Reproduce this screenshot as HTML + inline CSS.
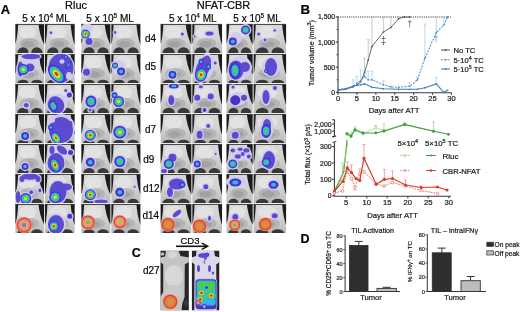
<!DOCTYPE html><html><head><meta charset="utf-8"><style>html,body{margin:0;padding:0;background:#fff;width:520px;height:312px;overflow:hidden}svg{display:block} text{stroke:#222;stroke-width:0.22px}</style></head><body>
<svg width="520" height="312" viewBox="0 0 520 312" font-family="Liberation Sans, Arial, sans-serif">
<defs><linearGradient id="mg" x1="0" y1="0" x2="0" y2="1"><stop offset="0" stop-color="#d8d8d8"/><stop offset="0.5" stop-color="#d2d2d2"/><stop offset="0.85" stop-color="#c2c2c2"/><stop offset="1" stop-color="#b6b6b6"/></linearGradient><filter id="bl" x="-5%" y="-5%" width="110%" height="110%"><feGaussianBlur stdDeviation="0.5"/></filter>
<clipPath id="c00"><rect x="15.2" y="23.7" width="29.2" height="29.3"/></clipPath>
<clipPath id="c01"><rect x="15.2" y="53.7" width="29.2" height="29.3"/></clipPath>
<clipPath id="c02"><rect x="15.2" y="83.7" width="29.2" height="29.3"/></clipPath>
<clipPath id="c03"><rect x="15.2" y="113.7" width="29.2" height="29.3"/></clipPath>
<clipPath id="c04"><rect x="15.2" y="143.7" width="29.2" height="29.3"/></clipPath>
<clipPath id="c05"><rect x="15.2" y="173.7" width="29.2" height="29.3"/></clipPath>
<clipPath id="c06"><rect x="15.2" y="203.7" width="29.2" height="29.3"/></clipPath>
<clipPath id="c10"><rect x="45.0" y="23.7" width="29.8" height="29.3"/></clipPath>
<clipPath id="c11"><rect x="45.0" y="53.7" width="29.8" height="29.3"/></clipPath>
<clipPath id="c12"><rect x="45.0" y="83.7" width="29.8" height="29.3"/></clipPath>
<clipPath id="c13"><rect x="45.0" y="113.7" width="29.8" height="29.3"/></clipPath>
<clipPath id="c14"><rect x="45.0" y="143.7" width="29.8" height="29.3"/></clipPath>
<clipPath id="c15"><rect x="45.0" y="173.7" width="29.8" height="29.3"/></clipPath>
<clipPath id="c16"><rect x="45.0" y="203.7" width="29.8" height="29.3"/></clipPath>
<clipPath id="c20"><rect x="81.2" y="23.7" width="29.4" height="29.3"/></clipPath>
<clipPath id="c21"><rect x="81.2" y="53.7" width="29.4" height="29.3"/></clipPath>
<clipPath id="c22"><rect x="81.2" y="83.7" width="29.4" height="29.3"/></clipPath>
<clipPath id="c23"><rect x="81.2" y="113.7" width="29.4" height="29.3"/></clipPath>
<clipPath id="c24"><rect x="81.2" y="143.7" width="29.4" height="29.3"/></clipPath>
<clipPath id="c25"><rect x="81.2" y="173.7" width="29.4" height="29.3"/></clipPath>
<clipPath id="c26"><rect x="81.2" y="203.7" width="29.4" height="29.3"/></clipPath>
<clipPath id="c30"><rect x="111.2" y="23.7" width="29.4" height="29.3"/></clipPath>
<clipPath id="c31"><rect x="111.2" y="53.7" width="29.4" height="29.3"/></clipPath>
<clipPath id="c32"><rect x="111.2" y="83.7" width="29.4" height="29.3"/></clipPath>
<clipPath id="c33"><rect x="111.2" y="113.7" width="29.4" height="29.3"/></clipPath>
<clipPath id="c34"><rect x="111.2" y="143.7" width="29.4" height="29.3"/></clipPath>
<clipPath id="c35"><rect x="111.2" y="173.7" width="29.4" height="29.3"/></clipPath>
<clipPath id="c36"><rect x="111.2" y="203.7" width="29.4" height="29.3"/></clipPath>
<clipPath id="c40"><rect x="160.4" y="23.7" width="31.2" height="29.3"/></clipPath>
<clipPath id="c41"><rect x="160.4" y="53.7" width="31.2" height="29.3"/></clipPath>
<clipPath id="c42"><rect x="160.4" y="83.7" width="31.2" height="29.3"/></clipPath>
<clipPath id="c43"><rect x="160.4" y="113.7" width="31.2" height="29.3"/></clipPath>
<clipPath id="c44"><rect x="160.4" y="143.7" width="31.2" height="29.3"/></clipPath>
<clipPath id="c45"><rect x="160.4" y="173.7" width="31.2" height="29.3"/></clipPath>
<clipPath id="c46"><rect x="160.4" y="203.7" width="31.2" height="29.3"/></clipPath>
<clipPath id="c50"><rect x="192.2" y="23.7" width="30.0" height="29.3"/></clipPath>
<clipPath id="c51"><rect x="192.2" y="53.7" width="30.0" height="29.3"/></clipPath>
<clipPath id="c52"><rect x="192.2" y="83.7" width="30.0" height="29.3"/></clipPath>
<clipPath id="c53"><rect x="192.2" y="113.7" width="30.0" height="29.3"/></clipPath>
<clipPath id="c54"><rect x="192.2" y="143.7" width="30.0" height="29.3"/></clipPath>
<clipPath id="c55"><rect x="192.2" y="173.7" width="30.0" height="29.3"/></clipPath>
<clipPath id="c56"><rect x="192.2" y="203.7" width="30.0" height="29.3"/></clipPath>
<clipPath id="c60"><rect x="226.3" y="23.7" width="26.5" height="29.3"/></clipPath>
<clipPath id="c61"><rect x="226.3" y="53.7" width="26.5" height="29.3"/></clipPath>
<clipPath id="c62"><rect x="226.3" y="83.7" width="26.5" height="29.3"/></clipPath>
<clipPath id="c63"><rect x="226.3" y="113.7" width="26.5" height="29.3"/></clipPath>
<clipPath id="c64"><rect x="226.3" y="143.7" width="26.5" height="29.3"/></clipPath>
<clipPath id="c65"><rect x="226.3" y="173.7" width="26.5" height="29.3"/></clipPath>
<clipPath id="c66"><rect x="226.3" y="203.7" width="26.5" height="29.3"/></clipPath>
<clipPath id="c70"><rect x="253.4" y="23.7" width="32.9" height="29.3"/></clipPath>
<clipPath id="c71"><rect x="253.4" y="53.7" width="32.9" height="29.3"/></clipPath>
<clipPath id="c72"><rect x="253.4" y="83.7" width="32.9" height="29.3"/></clipPath>
<clipPath id="c73"><rect x="253.4" y="113.7" width="32.9" height="29.3"/></clipPath>
<clipPath id="c74"><rect x="253.4" y="143.7" width="32.9" height="29.3"/></clipPath>
<clipPath id="c75"><rect x="253.4" y="173.7" width="32.9" height="29.3"/></clipPath>
<clipPath id="c76"><rect x="253.4" y="203.7" width="32.9" height="29.3"/></clipPath>
<clipPath id="cc0"><rect x="160.3" y="250.5" width="28.6" height="60"/></clipPath><clipPath id="cc1"><rect x="191.7" y="250.5" width="27.8" height="60"/></clipPath>
</defs>
<rect width="520" height="312" fill="#fff"/>
<g clip-path="url(#c00)"><g filter="url(#bl)">
<rect x="15.2" y="23.7" width="29.2" height="29.3" fill="url(#mg)"/><ellipse cx="27.5" cy="32.5" rx="8.76" ry="6.45" fill="#e2e2e2"/><ellipse cx="29.2" cy="43.6" rx="9.64" ry="5.57" fill="#b4b4b4"/><ellipse cx="28.3" cy="44.2" rx="5.84" ry="3.22" fill="#a2a2a2"/><path d="M15.2,23.7 L18.2,23.7 Q17.75,35.42 15.7,43.038 L15.2,43.624 Z" fill="#1e1e1e"/><path d="M44.4,23.7 L38.4,23.7 Q39.599999999999994,35.42 44.0,44.209999999999994 L44.4,44.796 Z" fill="#1e1e1e"/><rect x="15.2" y="23.7" width="29.2" height="1.2" fill="#3a3a3a"/><ellipse cx="23.1" cy="53.3" rx="5.84" ry="6.00" fill="#383838"/><ellipse cx="36.8" cy="53.3" rx="5.84" ry="6.00" fill="#383838"/><ellipse cx="29.9" cy="53.3" rx="1.46" ry="5.40" fill="#b8b8b8"/>

</g></g>
<g clip-path="url(#c01)"><g filter="url(#bl)">
<rect x="15.2" y="53.7" width="29.2" height="29.3" fill="url(#mg)"/><ellipse cx="27.5" cy="62.5" rx="8.76" ry="6.45" fill="#e2e2e2"/><ellipse cx="29.2" cy="73.6" rx="9.64" ry="5.57" fill="#b4b4b4"/><ellipse cx="28.3" cy="74.2" rx="5.84" ry="3.22" fill="#a2a2a2"/><path d="M15.2,53.7 L18.2,53.7 Q17.75,65.42 15.7,73.03800000000001 L15.2,73.62400000000001 Z" fill="#1e1e1e"/><path d="M44.4,53.7 L38.4,53.7 Q39.599999999999994,65.42 44.0,74.21000000000001 L44.4,74.796 Z" fill="#1e1e1e"/><rect x="15.2" y="53.7" width="29.2" height="1.2" fill="#3a3a3a"/><ellipse cx="23.1" cy="83.3" rx="5.84" ry="3.60" fill="#383838"/><ellipse cx="36.8" cy="83.3" rx="5.84" ry="3.60" fill="#383838"/><ellipse cx="29.9" cy="83.3" rx="1.46" ry="3.24" fill="#b8b8b8"/>
<ellipse cx="31.0" cy="56.5" rx="10.70" ry="4.00" fill="#d3cbee"/><ellipse cx="20.5" cy="69.0" rx="4.20" ry="8.70" fill="#d3cbee"/><ellipse cx="30.0" cy="67.5" rx="5.70" ry="5.20" fill="#d3cbee"/><ellipse cx="23.3" cy="69.5" rx="6.80" ry="6.80" fill="#d3cbee"/><ellipse cx="30.0" cy="62.0" rx="10.00" ry="8.00" fill="#d3cbee"/><ellipse cx="31.0" cy="56.5" rx="9.50" ry="2.80" fill="#5a4cd0"/><ellipse cx="20.5" cy="69.0" rx="3.00" ry="7.50" fill="#5a4cd0"/><ellipse cx="30.0" cy="67.5" rx="4.50" ry="4.00" fill="#5a4cd0"/><ellipse cx="23.3" cy="69.5" rx="5.50" ry="5.50" fill="#4636c8"/><ellipse cx="23.3" cy="69.5" rx="4.07" ry="4.07" fill="#35b6e8"/><ellipse cx="23.3" cy="69.5" rx="2.75" ry="2.75" fill="#45d14e"/><ellipse cx="23.3" cy="69.5" rx="1.54" ry="1.54" fill="#f2e232"/>
</g></g>
<g clip-path="url(#c02)"><g filter="url(#bl)">
<rect x="15.2" y="83.7" width="29.2" height="29.3" fill="url(#mg)"/><ellipse cx="27.5" cy="92.5" rx="8.76" ry="6.45" fill="#e2e2e2"/><ellipse cx="29.2" cy="103.6" rx="9.64" ry="5.57" fill="#b4b4b4"/><ellipse cx="28.3" cy="104.2" rx="5.84" ry="3.22" fill="#a2a2a2"/><path d="M15.2,83.7 L18.2,83.7 Q17.75,95.42 15.7,103.03800000000001 L15.2,103.62400000000001 Z" fill="#1e1e1e"/><path d="M44.4,83.7 L38.4,83.7 Q39.599999999999994,95.42 44.0,104.21000000000001 L44.4,104.796 Z" fill="#1e1e1e"/><rect x="15.2" y="83.7" width="29.2" height="1.2" fill="#3a3a3a"/><ellipse cx="23.1" cy="113.3" rx="5.84" ry="5.60" fill="#383838"/><ellipse cx="36.8" cy="113.3" rx="5.84" ry="5.60" fill="#383838"/><ellipse cx="29.9" cy="113.3" rx="1.46" ry="5.04" fill="#b8b8b8"/>
<ellipse cx="26.3" cy="105.2" rx="3.70" ry="3.40" fill="#d3cbee"/><ellipse cx="26.3" cy="105.2" rx="4.00" ry="3.50" fill="#d3cbee"/><ellipse cx="26.3" cy="105.2" rx="2.50" ry="2.20" fill="#5a4cd0"/>
</g></g>
<g clip-path="url(#c03)"><g filter="url(#bl)">
<rect x="15.2" y="113.7" width="29.2" height="29.3" fill="url(#mg)"/><ellipse cx="27.5" cy="122.5" rx="8.76" ry="6.45" fill="#e2e2e2"/><ellipse cx="29.2" cy="133.6" rx="9.64" ry="5.57" fill="#b4b4b4"/><ellipse cx="28.3" cy="134.2" rx="5.84" ry="3.22" fill="#a2a2a2"/><path d="M15.2,113.7 L18.2,113.7 Q17.75,125.42 15.7,133.038 L15.2,133.624 Z" fill="#1e1e1e"/><path d="M44.4,113.7 L38.4,113.7 Q39.599999999999994,125.42 44.0,134.21 L44.4,134.796 Z" fill="#1e1e1e"/><rect x="15.2" y="113.7" width="29.2" height="1.2" fill="#3a3a3a"/><ellipse cx="23.1" cy="143.3" rx="5.84" ry="3.60" fill="#383838"/><ellipse cx="36.8" cy="143.3" rx="5.84" ry="3.60" fill="#383838"/><ellipse cx="29.9" cy="143.3" rx="1.46" ry="3.24" fill="#b8b8b8"/>
<ellipse cx="25.1" cy="136.0" rx="5.30" ry="5.30" fill="#d3cbee"/><ellipse cx="25.1" cy="136.0" rx="4.00" ry="4.00" fill="#4636c8"/><ellipse cx="25.1" cy="136.0" rx="2.00" ry="2.00" fill="#35b6e8"/>
</g></g>
<g clip-path="url(#c04)"><g filter="url(#bl)">
<rect x="15.2" y="143.7" width="29.2" height="29.3" fill="url(#mg)"/><ellipse cx="27.5" cy="152.5" rx="8.76" ry="6.45" fill="#e2e2e2"/><ellipse cx="29.2" cy="163.6" rx="9.64" ry="5.57" fill="#b4b4b4"/><ellipse cx="28.3" cy="164.2" rx="5.84" ry="3.22" fill="#a2a2a2"/><path d="M15.2,143.7 L18.2,143.7 Q17.75,155.42 15.7,163.03799999999998 L15.2,163.624 Z" fill="#1e1e1e"/><path d="M44.4,143.7 L38.4,143.7 Q39.599999999999994,155.42 44.0,164.20999999999998 L44.4,164.796 Z" fill="#1e1e1e"/><rect x="15.2" y="143.7" width="29.2" height="1.2" fill="#3a3a3a"/><ellipse cx="23.1" cy="173.3" rx="5.84" ry="5.40" fill="#383838"/><ellipse cx="36.8" cy="173.3" rx="5.84" ry="5.40" fill="#383838"/><ellipse cx="29.9" cy="173.3" rx="1.46" ry="4.86" fill="#b8b8b8"/>
<ellipse cx="25.1" cy="166.4" rx="4.80" ry="4.80" fill="#d3cbee"/><ellipse cx="25.1" cy="166.4" rx="3.50" ry="3.50" fill="#4636c8"/><ellipse cx="25.1" cy="166.4" rx="1.75" ry="1.75" fill="#35b6e8"/>
</g></g>
<g clip-path="url(#c05)"><g filter="url(#bl)">
<rect x="15.2" y="173.7" width="29.2" height="29.3" fill="url(#mg)"/><ellipse cx="27.5" cy="182.5" rx="8.76" ry="6.45" fill="#e2e2e2"/><ellipse cx="29.2" cy="193.6" rx="9.64" ry="5.57" fill="#b4b4b4"/><ellipse cx="28.3" cy="194.2" rx="5.84" ry="3.22" fill="#a2a2a2"/><path d="M15.2,173.7 L18.2,173.7 Q17.75,185.42 15.7,193.03799999999998 L15.2,193.624 Z" fill="#1e1e1e"/><path d="M44.4,173.7 L38.4,173.7 Q39.599999999999994,185.42 44.0,194.20999999999998 L44.4,194.796 Z" fill="#1e1e1e"/><rect x="15.2" y="173.7" width="29.2" height="1.2" fill="#3a3a3a"/><ellipse cx="23.1" cy="203.3" rx="5.84" ry="4.60" fill="#383838"/><ellipse cx="36.8" cy="203.3" rx="5.84" ry="4.60" fill="#383838"/><ellipse cx="29.9" cy="203.3" rx="1.46" ry="4.14" fill="#b8b8b8"/>
<ellipse cx="30.0" cy="176.5" rx="9.70" ry="4.40" fill="#d3cbee"/><ellipse cx="22.0" cy="179.0" rx="3.70" ry="4.20" fill="#d3cbee"/><ellipse cx="38.0" cy="179.0" rx="3.70" ry="4.20" fill="#d3cbee"/><ellipse cx="18.0" cy="197.0" rx="3.70" ry="7.20" fill="#d3cbee"/><ellipse cx="31.2" cy="192.3" rx="3.20" ry="3.20" fill="#d3cbee"/><ellipse cx="39.8" cy="190.5" rx="2.70" ry="3.20" fill="#d3cbee"/><ellipse cx="25.7" cy="198.5" rx="6.80" ry="6.80" fill="#d3cbee"/><ellipse cx="30.0" cy="177.0" rx="11.00" ry="4.50" fill="#d3cbee"/><ellipse cx="30.0" cy="176.5" rx="8.50" ry="3.20" fill="#5a4cd0"/><ellipse cx="22.0" cy="179.0" rx="2.50" ry="3.00" fill="#5a4cd0"/><ellipse cx="38.0" cy="179.0" rx="2.50" ry="3.00" fill="#5a4cd0"/><ellipse cx="18.0" cy="197.0" rx="2.50" ry="6.00" fill="#5a4cd0"/><ellipse cx="31.2" cy="192.3" rx="2.00" ry="2.00" fill="#5a4cd0"/><ellipse cx="39.8" cy="190.5" rx="1.50" ry="2.00" fill="#5a4cd0"/><ellipse cx="25.7" cy="198.5" rx="5.50" ry="5.50" fill="#4636c8"/><ellipse cx="25.7" cy="198.5" rx="4.07" ry="4.07" fill="#35b6e8"/><ellipse cx="25.7" cy="198.5" rx="2.75" ry="2.75" fill="#45d14e"/><ellipse cx="25.7" cy="198.5" rx="1.54" ry="1.54" fill="#f2e232"/>
</g></g>
<g clip-path="url(#c06)"><g filter="url(#bl)">
<rect x="15.2" y="203.7" width="29.2" height="29.3" fill="url(#mg)"/><ellipse cx="27.5" cy="212.5" rx="8.76" ry="6.45" fill="#e2e2e2"/><ellipse cx="29.2" cy="223.6" rx="9.64" ry="5.57" fill="#b4b4b4"/><ellipse cx="28.3" cy="224.2" rx="5.84" ry="3.22" fill="#a2a2a2"/><path d="M15.2,203.7 L18.2,203.7 Q17.75,215.42 15.7,223.03799999999998 L15.2,223.624 Z" fill="#1e1e1e"/><path d="M44.4,203.7 L38.4,203.7 Q39.599999999999994,215.42 44.0,224.20999999999998 L44.4,224.796 Z" fill="#1e1e1e"/><rect x="15.2" y="203.7" width="29.2" height="1.2" fill="#3a3a3a"/><ellipse cx="23.1" cy="233.3" rx="5.84" ry="4.00" fill="#383838"/><ellipse cx="36.8" cy="233.3" rx="5.84" ry="4.00" fill="#383838"/><ellipse cx="29.9" cy="233.3" rx="1.46" ry="3.60" fill="#b8b8b8"/>
<ellipse cx="24.1" cy="225.0" rx="8.10" ry="8.10" fill="#eea090"/><ellipse cx="24.1" cy="225.0" rx="7.50" ry="7.50" fill="#dc4a3a"/><ellipse cx="24.1" cy="225.0" rx="6.10" ry="6.10" fill="#e8906e"/><ellipse cx="24.1" cy="225.0" rx="3.75" ry="3.75" fill="#e7a77a"/><ellipse cx="24.1" cy="225.0" rx="2.25" ry="2.25" fill="#6a80d8"/>
</g></g>
<g clip-path="url(#c10)"><g filter="url(#bl)">
<rect x="45.0" y="23.7" width="29.799999999999997" height="29.3" fill="url(#mg)"/><ellipse cx="57.5" cy="32.5" rx="8.94" ry="6.45" fill="#e2e2e2"/><ellipse cx="59.3" cy="43.6" rx="9.83" ry="5.57" fill="#b4b4b4"/><ellipse cx="58.4" cy="44.2" rx="5.96" ry="3.22" fill="#a2a2a2"/><path d="M45.0,23.7 L47.4,23.7 Q47.04,35.42 45.5,43.038 L45.0,43.624 Z" fill="#1e1e1e"/><path d="M74.8,23.7 L70.6,23.7 Q71.44,35.42 74.39999999999999,44.209999999999994 L74.8,44.796 Z" fill="#1e1e1e"/><rect x="45.0" y="23.7" width="29.799999999999997" height="1.2" fill="#3a3a3a"/><ellipse cx="53.0" cy="53.3" rx="5.96" ry="6.00" fill="#383838"/><ellipse cx="67.1" cy="53.3" rx="5.96" ry="6.00" fill="#383838"/><ellipse cx="60.0" cy="53.3" rx="1.49" ry="5.40" fill="#b8b8b8"/>
<ellipse cx="50.9" cy="32.8" rx="2.50" ry="2.50" fill="#d3cbee"/><ellipse cx="50.9" cy="32.8" rx="1.30" ry="1.30" fill="#5a4cd0"/>
</g></g>
<g clip-path="url(#c11)"><g filter="url(#bl)">
<rect x="45.0" y="53.7" width="29.799999999999997" height="29.3" fill="url(#mg)"/><ellipse cx="57.5" cy="62.5" rx="8.94" ry="6.45" fill="#e2e2e2"/><ellipse cx="59.3" cy="73.6" rx="9.83" ry="5.57" fill="#b4b4b4"/><ellipse cx="58.4" cy="74.2" rx="5.96" ry="3.22" fill="#a2a2a2"/><path d="M45.0,53.7 L47.4,53.7 Q47.04,65.42 45.5,73.03800000000001 L45.0,73.62400000000001 Z" fill="#1e1e1e"/><path d="M74.8,53.7 L70.6,53.7 Q71.44,65.42 74.39999999999999,74.21000000000001 L74.8,74.796 Z" fill="#1e1e1e"/><rect x="45.0" y="53.7" width="29.799999999999997" height="1.2" fill="#3a3a3a"/><ellipse cx="53.0" cy="83.3" rx="5.96" ry="3.60" fill="#383838"/><ellipse cx="67.1" cy="83.3" rx="5.96" ry="3.60" fill="#383838"/><ellipse cx="60.0" cy="83.3" rx="1.49" ry="3.24" fill="#b8b8b8"/>
<ellipse cx="61.0" cy="68.0" rx="13.70" ry="15.70" fill="#d3cbee"/><ellipse cx="56.5" cy="74.0" rx="7.80" ry="12.30" fill="#d3cbee" transform="rotate(-40 56.5 74.0)"/><ellipse cx="68.5" cy="65.0" rx="3.10" ry="5.80" fill="#d3cbee" transform="rotate(40 68.5 65.0)"/><ellipse cx="66.0" cy="57.0" rx="3.50" ry="3.10" fill="#d3cbee"/><ellipse cx="61.0" cy="68.0" rx="12.50" ry="14.50" fill="#5a4cd0"/><ellipse cx="62.0" cy="61.5" rx="2.50" ry="2.20" fill="#d3cbee"/><ellipse cx="69.0" cy="76.0" rx="3.00" ry="4.00" fill="#d3cbee"/><ellipse cx="56.5" cy="74.0" rx="6.50" ry="11.00" fill="#4636c8" transform="rotate(-40 56.5 74.0)"/><ellipse cx="68.5" cy="65.0" rx="1.80" ry="4.50" fill="#4636c8" transform="rotate(40 68.5 65.0)"/><ellipse cx="66.0" cy="57.0" rx="2.20" ry="1.80" fill="#4636c8"/><ellipse cx="56.5" cy="74.0" rx="5.20" ry="8.80" fill="#35b6e8" transform="rotate(-40 56.5 74.0)"/><ellipse cx="56.5" cy="74.0" rx="3.90" ry="6.60" fill="#45d14e" transform="rotate(-40 56.5 74.0)"/><ellipse cx="56.5" cy="74.0" rx="2.73" ry="4.62" fill="#f2e232" transform="rotate(-40 56.5 74.0)"/><ellipse cx="56.5" cy="74.0" rx="1.56" ry="2.64" fill="#e3321c" transform="rotate(-40 56.5 74.0)"/><ellipse cx="68.5" cy="65.0" rx="0.90" ry="2.25" fill="#35b6e8" transform="rotate(40 68.5 65.0)"/><ellipse cx="66.0" cy="57.0" rx="1.10" ry="0.90" fill="#35b6e8"/>
</g></g>
<g clip-path="url(#c12)"><g filter="url(#bl)">
<rect x="45.0" y="83.7" width="29.799999999999997" height="29.3" fill="url(#mg)"/><ellipse cx="57.5" cy="92.5" rx="8.94" ry="6.45" fill="#e2e2e2"/><ellipse cx="59.3" cy="103.6" rx="9.83" ry="5.57" fill="#b4b4b4"/><ellipse cx="58.4" cy="104.2" rx="5.96" ry="3.22" fill="#a2a2a2"/><path d="M45.0,83.7 L47.4,83.7 Q47.04,95.42 45.5,103.03800000000001 L45.0,103.62400000000001 Z" fill="#1e1e1e"/><path d="M74.8,83.7 L70.6,83.7 Q71.44,95.42 74.39999999999999,104.21000000000001 L74.8,104.796 Z" fill="#1e1e1e"/><rect x="45.0" y="83.7" width="29.799999999999997" height="1.2" fill="#3a3a3a"/><ellipse cx="53.0" cy="113.3" rx="5.96" ry="5.60" fill="#383838"/><ellipse cx="67.1" cy="113.3" rx="5.96" ry="5.60" fill="#383838"/><ellipse cx="60.0" cy="113.3" rx="1.49" ry="5.04" fill="#b8b8b8"/>
<ellipse cx="56.0" cy="105.0" rx="9.20" ry="10.20" fill="#d3cbee" transform="rotate(-30 56.0 105.0)"/><ellipse cx="53.3" cy="106.0" rx="5.30" ry="7.30" fill="#d3cbee" transform="rotate(-20 53.3 106.0)"/><ellipse cx="69.4" cy="95.1" rx="3.80" ry="3.80" fill="#d3cbee"/><ellipse cx="65.7" cy="90.4" rx="2.70" ry="2.70" fill="#d3cbee"/><ellipse cx="57.0" cy="104.0" rx="11.00" ry="10.00" fill="#d3cbee" transform="rotate(-30 57.0 104.0)"/><ellipse cx="56.0" cy="105.0" rx="8.00" ry="9.00" fill="#5a4cd0" transform="rotate(-30 56.0 105.0)"/><ellipse cx="53.3" cy="106.0" rx="4.00" ry="6.00" fill="#4636c8" transform="rotate(-20 53.3 106.0)"/><ellipse cx="69.4" cy="95.1" rx="2.50" ry="2.50" fill="#4636c8"/><ellipse cx="65.7" cy="90.4" rx="1.50" ry="1.50" fill="#5a4cd0"/><ellipse cx="53.3" cy="106.0" rx="2.64" ry="3.96" fill="#35b6e8" transform="rotate(-20 53.3 106.0)"/><ellipse cx="53.3" cy="106.0" rx="1.44" ry="2.16" fill="#45d14e" transform="rotate(-20 53.3 106.0)"/>
</g></g>
<g clip-path="url(#c13)"><g filter="url(#bl)">
<rect x="45.0" y="113.7" width="29.799999999999997" height="29.3" fill="url(#mg)"/><ellipse cx="57.5" cy="122.5" rx="8.94" ry="6.45" fill="#e2e2e2"/><ellipse cx="59.3" cy="133.6" rx="9.83" ry="5.57" fill="#b4b4b4"/><ellipse cx="58.4" cy="134.2" rx="5.96" ry="3.22" fill="#a2a2a2"/><path d="M45.0,113.7 L47.4,113.7 Q47.04,125.42 45.5,133.038 L45.0,133.624 Z" fill="#1e1e1e"/><path d="M74.8,113.7 L70.6,113.7 Q71.44,125.42 74.39999999999999,134.21 L74.8,134.796 Z" fill="#1e1e1e"/><rect x="45.0" y="113.7" width="29.799999999999997" height="1.2" fill="#3a3a3a"/><ellipse cx="53.0" cy="143.3" rx="5.96" ry="3.60" fill="#383838"/><ellipse cx="67.1" cy="143.3" rx="5.96" ry="3.60" fill="#383838"/><ellipse cx="60.0" cy="143.3" rx="1.49" ry="3.24" fill="#b8b8b8"/>
<ellipse cx="61.0" cy="130.0" rx="13.20" ry="14.20" fill="#d3cbee"/><ellipse cx="56.0" cy="138.0" rx="5.80" ry="8.30" fill="#d3cbee" transform="rotate(-35 56.0 138.0)"/><ellipse cx="50.9" cy="127.4" rx="4.10" ry="4.10" fill="#d3cbee"/><ellipse cx="70.0" cy="124.0" rx="3.70" ry="4.20" fill="#d3cbee"/><ellipse cx="61.0" cy="128.0" rx="14.00" ry="14.00" fill="#d3cbee"/><ellipse cx="61.0" cy="130.0" rx="12.00" ry="13.00" fill="#5a4cd0"/><ellipse cx="52.0" cy="120.0" rx="3.00" ry="3.00" fill="#d3cbee"/><ellipse cx="56.0" cy="138.0" rx="4.50" ry="7.00" fill="#4636c8" transform="rotate(-35 56.0 138.0)"/><ellipse cx="50.9" cy="127.4" rx="2.80" ry="2.80" fill="#4636c8"/><ellipse cx="70.0" cy="124.0" rx="2.50" ry="3.00" fill="#5a4cd0"/><ellipse cx="56.0" cy="138.0" rx="3.60" ry="5.60" fill="#35b6e8" transform="rotate(-35 56.0 138.0)"/><ellipse cx="56.0" cy="138.0" rx="2.70" ry="4.20" fill="#45d14e" transform="rotate(-35 56.0 138.0)"/><ellipse cx="56.0" cy="138.0" rx="1.89" ry="2.94" fill="#f2e232" transform="rotate(-35 56.0 138.0)"/><ellipse cx="56.0" cy="138.0" rx="1.08" ry="1.68" fill="#e3321c" transform="rotate(-35 56.0 138.0)"/><ellipse cx="50.9" cy="127.4" rx="1.40" ry="1.40" fill="#35b6e8"/>
</g></g>
<g clip-path="url(#c14)"><g filter="url(#bl)">
<rect x="45.0" y="143.7" width="29.799999999999997" height="29.3" fill="url(#mg)"/><ellipse cx="57.5" cy="152.5" rx="8.94" ry="6.45" fill="#e2e2e2"/><ellipse cx="59.3" cy="163.6" rx="9.83" ry="5.57" fill="#b4b4b4"/><ellipse cx="58.4" cy="164.2" rx="5.96" ry="3.22" fill="#a2a2a2"/><path d="M45.0,143.7 L47.4,143.7 Q47.04,155.42 45.5,163.03799999999998 L45.0,163.624 Z" fill="#1e1e1e"/><path d="M74.8,143.7 L70.6,143.7 Q71.44,155.42 74.39999999999999,164.20999999999998 L74.8,164.796 Z" fill="#1e1e1e"/><rect x="45.0" y="143.7" width="29.799999999999997" height="1.2" fill="#3a3a3a"/><ellipse cx="53.0" cy="173.3" rx="5.96" ry="5.40" fill="#383838"/><ellipse cx="67.1" cy="173.3" rx="5.96" ry="5.40" fill="#383838"/><ellipse cx="60.0" cy="173.3" rx="1.49" ry="4.86" fill="#b8b8b8"/>
<ellipse cx="56.0" cy="163.0" rx="9.70" ry="11.20" fill="#d3cbee"/><ellipse cx="62.0" cy="150.0" rx="7.20" ry="4.70" fill="#d3cbee" transform="rotate(40 62.0 150.0)"/><ellipse cx="52.0" cy="150.0" rx="3.70" ry="5.20" fill="#d3cbee"/><ellipse cx="55.0" cy="165.0" rx="5.80" ry="8.80" fill="#d3cbee" transform="rotate(-25 55.0 165.0)"/><ellipse cx="70.6" cy="152.5" rx="3.80" ry="3.80" fill="#d3cbee"/><ellipse cx="56.0" cy="163.0" rx="8.50" ry="10.00" fill="#5a4cd0"/><ellipse cx="62.0" cy="150.0" rx="6.00" ry="3.50" fill="#5a4cd0" transform="rotate(40 62.0 150.0)"/><ellipse cx="52.0" cy="150.0" rx="2.50" ry="4.00" fill="#5a4cd0"/><ellipse cx="55.0" cy="165.0" rx="4.50" ry="7.50" fill="#4636c8" transform="rotate(-25 55.0 165.0)"/><ellipse cx="70.6" cy="152.5" rx="2.50" ry="2.50" fill="#4636c8"/><ellipse cx="55.0" cy="165.0" rx="3.60" ry="6.00" fill="#35b6e8" transform="rotate(-25 55.0 165.0)"/><ellipse cx="55.0" cy="165.0" rx="2.70" ry="4.50" fill="#45d14e" transform="rotate(-25 55.0 165.0)"/><ellipse cx="55.0" cy="165.0" rx="1.89" ry="3.15" fill="#f2e232" transform="rotate(-25 55.0 165.0)"/><ellipse cx="55.0" cy="165.0" rx="1.08" ry="1.80" fill="#e3321c" transform="rotate(-25 55.0 165.0)"/>
</g></g>
<g clip-path="url(#c15)"><g filter="url(#bl)">
<rect x="45.0" y="173.7" width="29.799999999999997" height="29.3" fill="url(#mg)"/><ellipse cx="57.5" cy="182.5" rx="8.94" ry="6.45" fill="#e2e2e2"/><ellipse cx="59.3" cy="193.6" rx="9.83" ry="5.57" fill="#b4b4b4"/><ellipse cx="58.4" cy="194.2" rx="5.96" ry="3.22" fill="#a2a2a2"/><path d="M45.0,173.7 L47.4,173.7 Q47.04,185.42 45.5,193.03799999999998 L45.0,193.624 Z" fill="#1e1e1e"/><path d="M74.8,173.7 L70.6,173.7 Q71.44,185.42 74.39999999999999,194.20999999999998 L74.8,194.796 Z" fill="#1e1e1e"/><rect x="45.0" y="173.7" width="29.799999999999997" height="1.2" fill="#3a3a3a"/><ellipse cx="53.0" cy="203.3" rx="5.96" ry="4.60" fill="#383838"/><ellipse cx="67.1" cy="203.3" rx="5.96" ry="4.60" fill="#383838"/><ellipse cx="60.0" cy="203.3" rx="1.49" ry="4.14" fill="#b8b8b8"/>
<ellipse cx="58.0" cy="192.0" rx="9.70" ry="12.20" fill="#d3cbee"/><ellipse cx="66.0" cy="187.0" rx="7.20" ry="4.70" fill="#d3cbee"/><ellipse cx="55.2" cy="197.2" rx="7.30" ry="7.30" fill="#d3cbee"/><ellipse cx="58.0" cy="192.0" rx="8.50" ry="11.00" fill="#5a4cd0"/><ellipse cx="66.0" cy="187.0" rx="6.00" ry="3.50" fill="#5a4cd0"/><ellipse cx="55.2" cy="197.2" rx="6.00" ry="6.00" fill="#4636c8"/><ellipse cx="55.2" cy="197.2" rx="4.44" ry="4.44" fill="#35b6e8"/><ellipse cx="55.2" cy="197.2" rx="3.00" ry="3.00" fill="#45d14e"/><ellipse cx="55.2" cy="197.2" rx="1.68" ry="1.68" fill="#f2e232"/>
</g></g>
<g clip-path="url(#c16)"><g filter="url(#bl)">
<rect x="45.0" y="203.7" width="29.799999999999997" height="29.3" fill="url(#mg)"/><ellipse cx="57.5" cy="212.5" rx="8.94" ry="6.45" fill="#e2e2e2"/><ellipse cx="59.3" cy="223.6" rx="9.83" ry="5.57" fill="#b4b4b4"/><ellipse cx="58.4" cy="224.2" rx="5.96" ry="3.22" fill="#a2a2a2"/><path d="M45.0,203.7 L47.4,203.7 Q47.04,215.42 45.5,223.03799999999998 L45.0,223.624 Z" fill="#1e1e1e"/><path d="M74.8,203.7 L70.6,203.7 Q71.44,215.42 74.39999999999999,224.20999999999998 L74.8,224.796 Z" fill="#1e1e1e"/><rect x="45.0" y="203.7" width="29.799999999999997" height="1.2" fill="#3a3a3a"/><ellipse cx="53.0" cy="233.3" rx="5.96" ry="4.00" fill="#383838"/><ellipse cx="67.1" cy="233.3" rx="5.96" ry="4.00" fill="#383838"/><ellipse cx="60.0" cy="233.3" rx="1.49" ry="3.60" fill="#b8b8b8"/>
<ellipse cx="56.0" cy="224.5" rx="9.20" ry="10.70" fill="#d3cbee"/><ellipse cx="53.9" cy="226.2" rx="6.30" ry="6.30" fill="#d3cbee"/><ellipse cx="69.8" cy="216.3" rx="3.80" ry="3.80" fill="#d3cbee"/><ellipse cx="56.0" cy="224.0" rx="10.00" ry="11.00" fill="#d3cbee"/><ellipse cx="56.0" cy="224.5" rx="8.00" ry="9.50" fill="#5a4cd0"/><ellipse cx="53.9" cy="226.2" rx="5.00" ry="5.00" fill="#4636c8"/><ellipse cx="69.8" cy="216.3" rx="2.50" ry="2.50" fill="#4636c8"/><ellipse cx="53.9" cy="226.2" rx="4.00" ry="4.00" fill="#35b6e8"/><ellipse cx="53.9" cy="226.2" rx="3.00" ry="3.00" fill="#45d14e"/><ellipse cx="53.9" cy="226.2" rx="2.10" ry="2.10" fill="#f2e232"/><ellipse cx="53.9" cy="226.2" rx="1.20" ry="1.20" fill="#e3321c"/>
</g></g>
<g clip-path="url(#c20)"><g filter="url(#bl)">
<rect x="81.2" y="23.7" width="29.39999999999999" height="29.3" fill="url(#mg)"/><ellipse cx="93.5" cy="32.5" rx="8.82" ry="6.45" fill="#e2e2e2"/><ellipse cx="95.3" cy="43.6" rx="9.70" ry="5.57" fill="#b4b4b4"/><ellipse cx="94.4" cy="44.2" rx="5.88" ry="3.22" fill="#a2a2a2"/><path d="M81.2,23.7 L84.2,23.7 Q83.75,35.42 81.7,43.038 L81.2,43.624 Z" fill="#1e1e1e"/><path d="M110.6,23.7 L104.6,23.7 Q105.8,35.42 110.19999999999999,44.209999999999994 L110.6,44.796 Z" fill="#1e1e1e"/><rect x="81.2" y="23.7" width="29.39999999999999" height="1.2" fill="#3a3a3a"/><ellipse cx="89.1" cy="53.3" rx="5.88" ry="6.00" fill="#383838"/><ellipse cx="103.0" cy="53.3" rx="5.88" ry="6.00" fill="#383838"/><ellipse cx="96.0" cy="53.3" rx="1.47" ry="5.40" fill="#b8b8b8"/>
<ellipse cx="89.1" cy="41.5" rx="4.70" ry="4.70" fill="#d3cbee"/><ellipse cx="85.4" cy="34.1" rx="5.80" ry="5.80" fill="#d3cbee"/><ellipse cx="87.0" cy="28.0" rx="6.00" ry="4.50" fill="#d3cbee"/><ellipse cx="89.1" cy="41.5" rx="3.50" ry="3.50" fill="#5a4cd0"/><ellipse cx="85.4" cy="34.1" rx="4.50" ry="4.50" fill="#4636c8"/><ellipse cx="85.4" cy="34.1" rx="3.60" ry="3.60" fill="#35b6e8"/><ellipse cx="85.4" cy="34.1" rx="2.70" ry="2.70" fill="#45d14e"/><ellipse cx="85.4" cy="34.1" rx="1.89" ry="1.89" fill="#f2e232"/><ellipse cx="85.4" cy="34.1" rx="1.08" ry="1.08" fill="#e3321c"/>
</g></g>
<g clip-path="url(#c21)"><g filter="url(#bl)">
<rect x="81.2" y="53.7" width="29.39999999999999" height="29.3" fill="url(#mg)"/><ellipse cx="93.5" cy="62.5" rx="8.82" ry="6.45" fill="#e2e2e2"/><ellipse cx="95.3" cy="73.6" rx="9.70" ry="5.57" fill="#b4b4b4"/><ellipse cx="94.4" cy="74.2" rx="5.88" ry="3.22" fill="#a2a2a2"/><path d="M81.2,53.7 L84.2,53.7 Q83.75,65.42 81.7,73.03800000000001 L81.2,73.62400000000001 Z" fill="#1e1e1e"/><path d="M110.6,53.7 L104.6,53.7 Q105.8,65.42 110.19999999999999,74.21000000000001 L110.6,74.796 Z" fill="#1e1e1e"/><rect x="81.2" y="53.7" width="29.39999999999999" height="1.2" fill="#3a3a3a"/><ellipse cx="89.1" cy="83.3" rx="5.88" ry="3.60" fill="#383838"/><ellipse cx="103.0" cy="83.3" rx="5.88" ry="3.60" fill="#383838"/><ellipse cx="96.0" cy="83.3" rx="1.47" ry="3.24" fill="#b8b8b8"/>
<ellipse cx="86.6" cy="72.2" rx="4.70" ry="4.70" fill="#d3cbee"/><ellipse cx="86.6" cy="72.2" rx="3.50" ry="3.50" fill="#5a4cd0"/>
</g></g>
<g clip-path="url(#c22)"><g filter="url(#bl)">
<rect x="81.2" y="83.7" width="29.39999999999999" height="29.3" fill="url(#mg)"/><ellipse cx="93.5" cy="92.5" rx="8.82" ry="6.45" fill="#e2e2e2"/><ellipse cx="95.3" cy="103.6" rx="9.70" ry="5.57" fill="#b4b4b4"/><ellipse cx="94.4" cy="104.2" rx="5.88" ry="3.22" fill="#a2a2a2"/><path d="M81.2,83.7 L84.2,83.7 Q83.75,95.42 81.7,103.03800000000001 L81.2,103.62400000000001 Z" fill="#1e1e1e"/><path d="M110.6,83.7 L104.6,83.7 Q105.8,95.42 110.19999999999999,104.21000000000001 L110.6,104.796 Z" fill="#1e1e1e"/><rect x="81.2" y="83.7" width="29.39999999999999" height="1.2" fill="#3a3a3a"/><ellipse cx="89.1" cy="113.3" rx="5.88" ry="5.60" fill="#383838"/><ellipse cx="103.0" cy="113.3" rx="5.88" ry="5.60" fill="#383838"/><ellipse cx="96.0" cy="113.3" rx="1.47" ry="5.04" fill="#b8b8b8"/>
<ellipse cx="91.0" cy="101.5" rx="6.80" ry="7.30" fill="#d3cbee"/><ellipse cx="90.0" cy="110.0" rx="2.70" ry="2.70" fill="#d3cbee"/><ellipse cx="91.0" cy="101.5" rx="5.50" ry="6.00" fill="#4636c8"/><ellipse cx="90.0" cy="110.0" rx="1.50" ry="1.50" fill="#5a4cd0"/><ellipse cx="91.0" cy="101.5" rx="3.63" ry="3.96" fill="#35b6e8"/><ellipse cx="91.0" cy="101.5" rx="1.98" ry="2.16" fill="#45d14e"/>
</g></g>
<g clip-path="url(#c23)"><g filter="url(#bl)">
<rect x="81.2" y="113.7" width="29.39999999999999" height="29.3" fill="url(#mg)"/><ellipse cx="93.5" cy="122.5" rx="8.82" ry="6.45" fill="#e2e2e2"/><ellipse cx="95.3" cy="133.6" rx="9.70" ry="5.57" fill="#b4b4b4"/><ellipse cx="94.4" cy="134.2" rx="5.88" ry="3.22" fill="#a2a2a2"/><path d="M81.2,113.7 L84.2,113.7 Q83.75,125.42 81.7,133.038 L81.2,133.624 Z" fill="#1e1e1e"/><path d="M110.6,113.7 L104.6,113.7 Q105.8,125.42 110.19999999999999,134.21 L110.6,134.796 Z" fill="#1e1e1e"/><rect x="81.2" y="113.7" width="29.39999999999999" height="1.2" fill="#3a3a3a"/><ellipse cx="89.1" cy="143.3" rx="5.88" ry="3.60" fill="#383838"/><ellipse cx="103.0" cy="143.3" rx="5.88" ry="3.60" fill="#383838"/><ellipse cx="96.0" cy="143.3" rx="1.47" ry="3.24" fill="#b8b8b8"/>
<ellipse cx="90.3" cy="135.2" rx="6.80" ry="6.80" fill="#d3cbee"/><ellipse cx="90.3" cy="135.2" rx="5.50" ry="5.50" fill="#4636c8"/><ellipse cx="90.3" cy="135.2" rx="4.40" ry="4.40" fill="#35b6e8"/><ellipse cx="90.3" cy="135.2" rx="3.30" ry="3.30" fill="#45d14e"/><ellipse cx="90.3" cy="135.2" rx="2.31" ry="2.31" fill="#f2e232"/><ellipse cx="90.3" cy="135.2" rx="1.32" ry="1.32" fill="#e3321c"/>
</g></g>
<g clip-path="url(#c24)"><g filter="url(#bl)">
<rect x="81.2" y="143.7" width="29.39999999999999" height="29.3" fill="url(#mg)"/><ellipse cx="93.5" cy="152.5" rx="8.82" ry="6.45" fill="#e2e2e2"/><ellipse cx="95.3" cy="163.6" rx="9.70" ry="5.57" fill="#b4b4b4"/><ellipse cx="94.4" cy="164.2" rx="5.88" ry="3.22" fill="#a2a2a2"/><path d="M81.2,143.7 L84.2,143.7 Q83.75,155.42 81.7,163.03799999999998 L81.2,163.624 Z" fill="#1e1e1e"/><path d="M110.6,143.7 L104.6,143.7 Q105.8,155.42 110.19999999999999,164.20999999999998 L110.6,164.796 Z" fill="#1e1e1e"/><rect x="81.2" y="143.7" width="29.39999999999999" height="1.2" fill="#3a3a3a"/><ellipse cx="89.1" cy="173.3" rx="5.88" ry="5.40" fill="#383838"/><ellipse cx="103.0" cy="173.3" rx="5.88" ry="5.40" fill="#383838"/><ellipse cx="96.0" cy="173.3" rx="1.47" ry="4.86" fill="#b8b8b8"/>
<ellipse cx="90.3" cy="162.2" rx="5.80" ry="5.80" fill="#d3cbee"/><ellipse cx="90.3" cy="162.2" rx="4.50" ry="4.50" fill="#4636c8"/><ellipse cx="90.3" cy="162.2" rx="2.25" ry="2.25" fill="#35b6e8"/>
</g></g>
<g clip-path="url(#c25)"><g filter="url(#bl)">
<rect x="81.2" y="173.7" width="29.39999999999999" height="29.3" fill="url(#mg)"/><ellipse cx="93.5" cy="182.5" rx="8.82" ry="6.45" fill="#e2e2e2"/><ellipse cx="95.3" cy="193.6" rx="9.70" ry="5.57" fill="#b4b4b4"/><ellipse cx="94.4" cy="194.2" rx="5.88" ry="3.22" fill="#a2a2a2"/><path d="M81.2,173.7 L84.2,173.7 Q83.75,185.42 81.7,193.03799999999998 L81.2,193.624 Z" fill="#1e1e1e"/><path d="M110.6,173.7 L104.6,173.7 Q105.8,185.42 110.19999999999999,194.20999999999998 L110.6,194.796 Z" fill="#1e1e1e"/><rect x="81.2" y="173.7" width="29.39999999999999" height="1.2" fill="#3a3a3a"/><ellipse cx="89.1" cy="203.3" rx="5.88" ry="4.60" fill="#383838"/><ellipse cx="103.0" cy="203.3" rx="5.88" ry="4.60" fill="#383838"/><ellipse cx="96.0" cy="203.3" rx="1.47" ry="4.14" fill="#b8b8b8"/>
<ellipse cx="101.0" cy="201.5" rx="8.20" ry="3.20" fill="#d3cbee"/><ellipse cx="90.3" cy="194.7" rx="6.80" ry="6.80" fill="#d3cbee"/><ellipse cx="101.0" cy="201.5" rx="7.00" ry="2.00" fill="#5a4cd0"/><ellipse cx="90.3" cy="194.7" rx="5.50" ry="5.50" fill="#4636c8"/><ellipse cx="90.3" cy="194.7" rx="4.40" ry="4.40" fill="#35b6e8"/><ellipse cx="90.3" cy="194.7" rx="3.30" ry="3.30" fill="#45d14e"/><ellipse cx="90.3" cy="194.7" rx="2.31" ry="2.31" fill="#f2e232"/><ellipse cx="90.3" cy="194.7" rx="1.32" ry="1.32" fill="#e3321c"/>
</g></g>
<g clip-path="url(#c26)"><g filter="url(#bl)">
<rect x="81.2" y="203.7" width="29.39999999999999" height="29.3" fill="url(#mg)"/><ellipse cx="93.5" cy="212.5" rx="8.82" ry="6.45" fill="#e2e2e2"/><ellipse cx="95.3" cy="223.6" rx="9.70" ry="5.57" fill="#b4b4b4"/><ellipse cx="94.4" cy="224.2" rx="5.88" ry="3.22" fill="#a2a2a2"/><path d="M81.2,203.7 L84.2,203.7 Q83.75,215.42 81.7,223.03799999999998 L81.2,223.624 Z" fill="#1e1e1e"/><path d="M110.6,203.7 L104.6,203.7 Q105.8,215.42 110.19999999999999,224.20999999999998 L110.6,224.796 Z" fill="#1e1e1e"/><rect x="81.2" y="203.7" width="29.39999999999999" height="1.2" fill="#3a3a3a"/><ellipse cx="89.1" cy="233.3" rx="5.88" ry="4.00" fill="#383838"/><ellipse cx="103.0" cy="233.3" rx="5.88" ry="4.00" fill="#383838"/><ellipse cx="96.0" cy="233.3" rx="1.47" ry="3.60" fill="#b8b8b8"/>
<ellipse cx="87.9" cy="222.4" rx="7.40" ry="7.40" fill="#eea090"/><ellipse cx="87.9" cy="222.4" rx="6.80" ry="6.80" fill="#dc4a3a"/><ellipse cx="87.9" cy="222.4" rx="5.40" ry="5.40" fill="#e8906e"/><ellipse cx="87.9" cy="222.4" rx="3.40" ry="3.40" fill="#e7a77a"/><ellipse cx="87.9" cy="222.4" rx="2.04" ry="2.04" fill="#70c050"/>
</g></g>
<g clip-path="url(#c30)"><g filter="url(#bl)">
<rect x="111.2" y="23.7" width="29.39999999999999" height="29.3" fill="url(#mg)"/><ellipse cx="123.5" cy="32.5" rx="8.82" ry="6.45" fill="#e2e2e2"/><ellipse cx="125.3" cy="43.6" rx="9.70" ry="5.57" fill="#b4b4b4"/><ellipse cx="124.4" cy="44.2" rx="5.88" ry="3.22" fill="#a2a2a2"/><path d="M111.2,23.7 L113.60000000000001,23.7 Q113.24000000000001,35.42 111.7,43.038 L111.2,43.624 Z" fill="#1e1e1e"/><path d="M140.6,23.7 L136.4,23.7 Q137.23999999999998,35.42 140.2,44.209999999999994 L140.6,44.796 Z" fill="#1e1e1e"/><rect x="111.2" y="23.7" width="29.39999999999999" height="1.2" fill="#3a3a3a"/><ellipse cx="119.1" cy="53.3" rx="5.88" ry="6.00" fill="#383838"/><ellipse cx="133.0" cy="53.3" rx="5.88" ry="6.00" fill="#383838"/><ellipse cx="126.0" cy="53.3" rx="1.47" ry="5.40" fill="#b8b8b8"/>
<ellipse cx="115.0" cy="32.4" rx="2.50" ry="2.50" fill="#d3cbee"/><ellipse cx="115.0" cy="32.4" rx="1.30" ry="1.30" fill="#5a4cd0"/>
</g></g>
<g clip-path="url(#c31)"><g filter="url(#bl)">
<rect x="111.2" y="53.7" width="29.39999999999999" height="29.3" fill="url(#mg)"/><ellipse cx="123.5" cy="62.5" rx="8.82" ry="6.45" fill="#e2e2e2"/><ellipse cx="125.3" cy="73.6" rx="9.70" ry="5.57" fill="#b4b4b4"/><ellipse cx="124.4" cy="74.2" rx="5.88" ry="3.22" fill="#a2a2a2"/><path d="M111.2,53.7 L113.60000000000001,53.7 Q113.24000000000001,65.42 111.7,73.03800000000001 L111.2,73.62400000000001 Z" fill="#1e1e1e"/><path d="M140.6,53.7 L136.4,53.7 Q137.23999999999998,65.42 140.2,74.21000000000001 L140.6,74.796 Z" fill="#1e1e1e"/><rect x="111.2" y="53.7" width="29.39999999999999" height="1.2" fill="#3a3a3a"/><ellipse cx="119.1" cy="83.3" rx="5.88" ry="3.60" fill="#383838"/><ellipse cx="133.0" cy="83.3" rx="5.88" ry="3.60" fill="#383838"/><ellipse cx="126.0" cy="83.3" rx="1.47" ry="3.24" fill="#b8b8b8"/>
<ellipse cx="115.0" cy="65.4" rx="4.30" ry="4.30" fill="#d3cbee"/><ellipse cx="121.1" cy="71.5" rx="5.30" ry="5.30" fill="#d3cbee"/><ellipse cx="119.0" cy="68.0" rx="7.00" ry="8.00" fill="#d3cbee"/><ellipse cx="115.0" cy="65.4" rx="3.00" ry="3.00" fill="#4636c8"/><ellipse cx="121.1" cy="71.5" rx="4.00" ry="4.00" fill="#4636c8"/><ellipse cx="115.0" cy="65.4" rx="1.98" ry="1.98" fill="#35b6e8"/><ellipse cx="115.0" cy="65.4" rx="1.08" ry="1.08" fill="#45d14e"/><ellipse cx="121.1" cy="71.5" rx="2.00" ry="2.00" fill="#35b6e8"/>
</g></g>
<g clip-path="url(#c32)"><g filter="url(#bl)">
<rect x="111.2" y="83.7" width="29.39999999999999" height="29.3" fill="url(#mg)"/><ellipse cx="123.5" cy="92.5" rx="8.82" ry="6.45" fill="#e2e2e2"/><ellipse cx="125.3" cy="103.6" rx="9.70" ry="5.57" fill="#b4b4b4"/><ellipse cx="124.4" cy="104.2" rx="5.88" ry="3.22" fill="#a2a2a2"/><path d="M111.2,83.7 L113.60000000000001,83.7 Q113.24000000000001,95.42 111.7,103.03800000000001 L111.2,103.62400000000001 Z" fill="#1e1e1e"/><path d="M140.6,83.7 L136.4,83.7 Q137.23999999999998,95.42 140.2,104.21000000000001 L140.6,104.796 Z" fill="#1e1e1e"/><rect x="111.2" y="83.7" width="29.39999999999999" height="1.2" fill="#3a3a3a"/><ellipse cx="119.1" cy="113.3" rx="5.88" ry="5.60" fill="#383838"/><ellipse cx="133.0" cy="113.3" rx="5.88" ry="5.60" fill="#383838"/><ellipse cx="126.0" cy="113.3" rx="1.47" ry="5.04" fill="#b8b8b8"/>
<ellipse cx="114.4" cy="95.3" rx="4.30" ry="4.30" fill="#d3cbee"/><ellipse cx="118.6" cy="101.5" rx="6.80" ry="6.80" fill="#d3cbee"/><ellipse cx="114.4" cy="95.3" rx="3.00" ry="3.00" fill="#4636c8"/><ellipse cx="118.6" cy="101.5" rx="5.50" ry="5.50" fill="#4636c8"/><ellipse cx="114.4" cy="95.3" rx="1.50" ry="1.50" fill="#35b6e8"/><ellipse cx="118.6" cy="101.5" rx="4.07" ry="4.07" fill="#35b6e8"/><ellipse cx="118.6" cy="101.5" rx="2.75" ry="2.75" fill="#45d14e"/><ellipse cx="118.6" cy="101.5" rx="1.54" ry="1.54" fill="#f2e232"/>
</g></g>
<g clip-path="url(#c33)"><g filter="url(#bl)">
<rect x="111.2" y="113.7" width="29.39999999999999" height="29.3" fill="url(#mg)"/><ellipse cx="123.5" cy="122.5" rx="8.82" ry="6.45" fill="#e2e2e2"/><ellipse cx="125.3" cy="133.6" rx="9.70" ry="5.57" fill="#b4b4b4"/><ellipse cx="124.4" cy="134.2" rx="5.88" ry="3.22" fill="#a2a2a2"/><path d="M111.2,113.7 L113.60000000000001,113.7 Q113.24000000000001,125.42 111.7,133.038 L111.2,133.624 Z" fill="#1e1e1e"/><path d="M140.6,113.7 L136.4,113.7 Q137.23999999999998,125.42 140.2,134.21 L140.6,134.796 Z" fill="#1e1e1e"/><rect x="111.2" y="113.7" width="29.39999999999999" height="1.2" fill="#3a3a3a"/><ellipse cx="119.1" cy="143.3" rx="5.88" ry="3.60" fill="#383838"/><ellipse cx="133.0" cy="143.3" rx="5.88" ry="3.60" fill="#383838"/><ellipse cx="126.0" cy="143.3" rx="1.47" ry="3.24" fill="#b8b8b8"/>
<ellipse cx="119.8" cy="132.2" rx="7.80" ry="7.80" fill="#d3cbee"/><ellipse cx="119.8" cy="132.2" rx="6.50" ry="6.50" fill="#4636c8"/><ellipse cx="119.8" cy="132.2" rx="4.81" ry="4.81" fill="#35b6e8"/><ellipse cx="119.8" cy="132.2" rx="3.25" ry="3.25" fill="#45d14e"/><ellipse cx="119.8" cy="132.2" rx="1.82" ry="1.82" fill="#f2e232"/>
</g></g>
<g clip-path="url(#c34)"><g filter="url(#bl)">
<rect x="111.2" y="143.7" width="29.39999999999999" height="29.3" fill="url(#mg)"/><ellipse cx="123.5" cy="152.5" rx="8.82" ry="6.45" fill="#e2e2e2"/><ellipse cx="125.3" cy="163.6" rx="9.70" ry="5.57" fill="#b4b4b4"/><ellipse cx="124.4" cy="164.2" rx="5.88" ry="3.22" fill="#a2a2a2"/><path d="M111.2,143.7 L113.60000000000001,143.7 Q113.24000000000001,155.42 111.7,163.03799999999998 L111.2,163.624 Z" fill="#1e1e1e"/><path d="M140.6,143.7 L136.4,143.7 Q137.23999999999998,155.42 140.2,164.20999999999998 L140.6,164.796 Z" fill="#1e1e1e"/><rect x="111.2" y="143.7" width="29.39999999999999" height="1.2" fill="#3a3a3a"/><ellipse cx="119.1" cy="173.3" rx="5.88" ry="5.40" fill="#383838"/><ellipse cx="133.0" cy="173.3" rx="5.88" ry="5.40" fill="#383838"/><ellipse cx="126.0" cy="173.3" rx="1.47" ry="4.86" fill="#b8b8b8"/>
<ellipse cx="119.8" cy="161.5" rx="6.80" ry="6.80" fill="#d3cbee"/><ellipse cx="120.0" cy="161.5" rx="7.00" ry="7.00" fill="#d3cbee"/><ellipse cx="119.8" cy="161.5" rx="5.50" ry="5.50" fill="#4636c8"/><ellipse cx="119.8" cy="161.5" rx="3.63" ry="3.63" fill="#35b6e8"/><ellipse cx="119.8" cy="161.5" rx="1.98" ry="1.98" fill="#45d14e"/>
</g></g>
<g clip-path="url(#c35)"><g filter="url(#bl)">
<rect x="111.2" y="173.7" width="29.39999999999999" height="29.3" fill="url(#mg)"/><ellipse cx="123.5" cy="182.5" rx="8.82" ry="6.45" fill="#e2e2e2"/><ellipse cx="125.3" cy="193.6" rx="9.70" ry="5.57" fill="#b4b4b4"/><ellipse cx="124.4" cy="194.2" rx="5.88" ry="3.22" fill="#a2a2a2"/><path d="M111.2,173.7 L113.60000000000001,173.7 Q113.24000000000001,185.42 111.7,193.03799999999998 L111.2,193.624 Z" fill="#1e1e1e"/><path d="M140.6,173.7 L136.4,173.7 Q137.23999999999998,185.42 140.2,194.20999999999998 L140.6,194.796 Z" fill="#1e1e1e"/><rect x="111.2" y="173.7" width="29.39999999999999" height="1.2" fill="#3a3a3a"/><ellipse cx="119.1" cy="203.3" rx="5.88" ry="4.60" fill="#383838"/><ellipse cx="133.0" cy="203.3" rx="5.88" ry="4.60" fill="#383838"/><ellipse cx="126.0" cy="203.3" rx="1.47" ry="4.14" fill="#b8b8b8"/>
<ellipse cx="119.8" cy="192.3" rx="5.80" ry="5.80" fill="#d3cbee"/><ellipse cx="134.7" cy="186.8" rx="2.20" ry="2.20" fill="#d3cbee"/><ellipse cx="119.8" cy="192.3" rx="4.50" ry="4.50" fill="#4636c8"/><ellipse cx="134.7" cy="186.8" rx="1.00" ry="1.00" fill="#5a4cd0"/><ellipse cx="119.8" cy="192.3" rx="2.25" ry="2.25" fill="#35b6e8"/>
</g></g>
<g clip-path="url(#c36)"><g filter="url(#bl)">
<rect x="111.2" y="203.7" width="29.39999999999999" height="29.3" fill="url(#mg)"/><ellipse cx="123.5" cy="212.5" rx="8.82" ry="6.45" fill="#e2e2e2"/><ellipse cx="125.3" cy="223.6" rx="9.70" ry="5.57" fill="#b4b4b4"/><ellipse cx="124.4" cy="224.2" rx="5.88" ry="3.22" fill="#a2a2a2"/><path d="M111.2,203.7 L113.60000000000001,203.7 Q113.24000000000001,215.42 111.7,223.03799999999998 L111.2,223.624 Z" fill="#1e1e1e"/><path d="M140.6,203.7 L136.4,203.7 Q137.23999999999998,215.42 140.2,224.20999999999998 L140.6,224.796 Z" fill="#1e1e1e"/><rect x="111.2" y="203.7" width="29.39999999999999" height="1.2" fill="#3a3a3a"/><ellipse cx="119.1" cy="233.3" rx="5.88" ry="4.00" fill="#383838"/><ellipse cx="133.0" cy="233.3" rx="5.88" ry="4.00" fill="#383838"/><ellipse cx="126.0" cy="233.3" rx="1.47" ry="3.60" fill="#b8b8b8"/>
<ellipse cx="119.8" cy="221.9" rx="6.90" ry="6.90" fill="#eea090"/><ellipse cx="119.8" cy="221.9" rx="6.30" ry="6.30" fill="#dc4a3a"/><ellipse cx="119.8" cy="221.9" rx="4.90" ry="4.90" fill="#e8906e"/><ellipse cx="119.8" cy="221.9" rx="3.15" ry="3.15" fill="#e7a77a"/><ellipse cx="119.8" cy="221.9" rx="1.89" ry="1.89" fill="#a0c850"/>
</g></g>
<g clip-path="url(#c40)"><g filter="url(#bl)">
<rect x="160.4" y="23.7" width="31.19999999999999" height="29.3" fill="url(#mg)"/><ellipse cx="173.5" cy="32.5" rx="9.36" ry="6.45" fill="#e2e2e2"/><ellipse cx="175.4" cy="43.6" rx="10.30" ry="5.57" fill="#b4b4b4"/><ellipse cx="174.4" cy="44.2" rx="6.24" ry="3.22" fill="#a2a2a2"/><path d="M160.4,23.7 L163.4,23.7 Q162.95000000000002,35.42 160.9,43.038 L160.4,43.624 Z" fill="#1e1e1e"/><path d="M191.6,23.7 L185.6,23.7 Q186.79999999999998,35.42 191.2,44.209999999999994 L191.6,44.796 Z" fill="#1e1e1e"/><rect x="160.4" y="23.7" width="31.19999999999999" height="1.2" fill="#3a3a3a"/><ellipse cx="168.8" cy="53.3" rx="6.24" ry="6.00" fill="#383838"/><ellipse cx="183.5" cy="53.3" rx="6.24" ry="6.00" fill="#383838"/><ellipse cx="176.2" cy="53.3" rx="1.56" ry="5.40" fill="#b8b8b8"/>
<ellipse cx="182.4" cy="34.1" rx="2.70" ry="2.70" fill="#d3cbee"/><ellipse cx="182.4" cy="34.1" rx="1.50" ry="1.50" fill="#5a4cd0"/>
</g></g>
<g clip-path="url(#c41)"><g filter="url(#bl)">
<rect x="160.4" y="53.7" width="31.19999999999999" height="29.3" fill="url(#mg)"/><ellipse cx="173.5" cy="62.5" rx="9.36" ry="6.45" fill="#e2e2e2"/><ellipse cx="175.4" cy="73.6" rx="10.30" ry="5.57" fill="#b4b4b4"/><ellipse cx="174.4" cy="74.2" rx="6.24" ry="3.22" fill="#a2a2a2"/><path d="M160.4,53.7 L163.4,53.7 Q162.95000000000002,65.42 160.9,73.03800000000001 L160.4,73.62400000000001 Z" fill="#1e1e1e"/><path d="M191.6,53.7 L185.6,53.7 Q186.79999999999998,65.42 191.2,74.21000000000001 L191.6,74.796 Z" fill="#1e1e1e"/><rect x="160.4" y="53.7" width="31.19999999999999" height="1.2" fill="#3a3a3a"/><ellipse cx="168.8" cy="83.3" rx="6.24" ry="3.60" fill="#383838"/><ellipse cx="183.5" cy="83.3" rx="6.24" ry="3.60" fill="#383838"/><ellipse cx="176.2" cy="83.3" rx="1.56" ry="3.24" fill="#b8b8b8"/>
<ellipse cx="172.5" cy="74.7" rx="5.30" ry="5.30" fill="#d3cbee"/><ellipse cx="172.5" cy="74.7" rx="4.00" ry="4.00" fill="#4636c8"/><ellipse cx="172.5" cy="74.7" rx="2.00" ry="2.00" fill="#35b6e8"/>
</g></g>
<g clip-path="url(#c42)"><g filter="url(#bl)">
<rect x="160.4" y="83.7" width="31.19999999999999" height="29.3" fill="url(#mg)"/><ellipse cx="173.5" cy="92.5" rx="9.36" ry="6.45" fill="#e2e2e2"/><ellipse cx="175.4" cy="103.6" rx="10.30" ry="5.57" fill="#b4b4b4"/><ellipse cx="174.4" cy="104.2" rx="6.24" ry="3.22" fill="#a2a2a2"/><path d="M160.4,83.7 L163.4,83.7 Q162.95000000000002,95.42 160.9,103.03800000000001 L160.4,103.62400000000001 Z" fill="#1e1e1e"/><path d="M191.6,83.7 L185.6,83.7 Q186.79999999999998,95.42 191.2,104.21000000000001 L191.6,104.796 Z" fill="#1e1e1e"/><rect x="160.4" y="83.7" width="31.19999999999999" height="1.2" fill="#3a3a3a"/><ellipse cx="168.8" cy="113.3" rx="6.24" ry="5.60" fill="#383838"/><ellipse cx="183.5" cy="113.3" rx="6.24" ry="5.60" fill="#383838"/><ellipse cx="176.2" cy="113.3" rx="1.56" ry="5.04" fill="#b8b8b8"/>
<ellipse cx="173.8" cy="86.0" rx="6.30" ry="3.80" fill="#d3cbee"/><ellipse cx="171.3" cy="100.2" rx="4.20" ry="6.20" fill="#d3cbee"/><ellipse cx="173.8" cy="86.0" rx="5.00" ry="2.50" fill="#4636c8"/><ellipse cx="171.3" cy="100.2" rx="3.00" ry="5.00" fill="#5a4cd0"/><ellipse cx="173.8" cy="86.0" rx="2.50" ry="1.25" fill="#35b6e8"/>
</g></g>
<g clip-path="url(#c43)"><g filter="url(#bl)">
<rect x="160.4" y="113.7" width="31.19999999999999" height="29.3" fill="url(#mg)"/><ellipse cx="173.5" cy="122.5" rx="9.36" ry="6.45" fill="#e2e2e2"/><ellipse cx="175.4" cy="133.6" rx="10.30" ry="5.57" fill="#b4b4b4"/><ellipse cx="174.4" cy="134.2" rx="6.24" ry="3.22" fill="#a2a2a2"/><path d="M160.4,113.7 L163.4,113.7 Q162.95000000000002,125.42 160.9,133.038 L160.4,133.624 Z" fill="#1e1e1e"/><path d="M191.6,113.7 L185.6,113.7 Q186.79999999999998,125.42 191.2,134.21 L191.6,134.796 Z" fill="#1e1e1e"/><rect x="160.4" y="113.7" width="31.19999999999999" height="1.2" fill="#3a3a3a"/><ellipse cx="168.8" cy="143.3" rx="6.24" ry="3.60" fill="#383838"/><ellipse cx="183.5" cy="143.3" rx="6.24" ry="3.60" fill="#383838"/><ellipse cx="176.2" cy="143.3" rx="1.56" ry="3.24" fill="#b8b8b8"/>

</g></g>
<g clip-path="url(#c44)"><g filter="url(#bl)">
<rect x="160.4" y="143.7" width="31.19999999999999" height="29.3" fill="url(#mg)"/><ellipse cx="173.5" cy="152.5" rx="9.36" ry="6.45" fill="#e2e2e2"/><ellipse cx="175.4" cy="163.6" rx="10.30" ry="5.57" fill="#b4b4b4"/><ellipse cx="174.4" cy="164.2" rx="6.24" ry="3.22" fill="#a2a2a2"/><path d="M160.4,143.7 L163.4,143.7 Q162.95000000000002,155.42 160.9,163.03799999999998 L160.4,163.624 Z" fill="#1e1e1e"/><path d="M191.6,143.7 L185.6,143.7 Q186.79999999999998,155.42 191.2,164.20999999999998 L191.6,164.796 Z" fill="#1e1e1e"/><rect x="160.4" y="143.7" width="31.19999999999999" height="1.2" fill="#3a3a3a"/><ellipse cx="168.8" cy="173.3" rx="6.24" ry="5.40" fill="#383838"/><ellipse cx="183.5" cy="173.3" rx="6.24" ry="5.40" fill="#383838"/><ellipse cx="176.2" cy="173.3" rx="1.56" ry="4.86" fill="#b8b8b8"/>
<ellipse cx="172.5" cy="157.8" rx="5.20" ry="5.20" fill="#d3cbee"/><ellipse cx="164.0" cy="171.0" rx="4.20" ry="3.20" fill="#d3cbee"/><ellipse cx="168.8" cy="163.9" rx="6.30" ry="6.30" fill="#d3cbee"/><ellipse cx="172.5" cy="157.8" rx="4.00" ry="4.00" fill="#5a4cd0"/><ellipse cx="164.0" cy="171.0" rx="3.00" ry="2.00" fill="#5a4cd0"/><ellipse cx="168.8" cy="163.9" rx="5.00" ry="5.00" fill="#4636c8"/><ellipse cx="168.8" cy="163.9" rx="3.30" ry="3.30" fill="#35b6e8"/><ellipse cx="168.8" cy="163.9" rx="1.80" ry="1.80" fill="#45d14e"/>
</g></g>
<g clip-path="url(#c45)"><g filter="url(#bl)">
<rect x="160.4" y="173.7" width="31.19999999999999" height="29.3" fill="url(#mg)"/><ellipse cx="173.5" cy="182.5" rx="9.36" ry="6.45" fill="#e2e2e2"/><ellipse cx="175.4" cy="193.6" rx="10.30" ry="5.57" fill="#b4b4b4"/><ellipse cx="174.4" cy="194.2" rx="6.24" ry="3.22" fill="#a2a2a2"/><path d="M160.4,173.7 L163.4,173.7 Q162.95000000000002,185.42 160.9,193.03799999999998 L160.4,193.624 Z" fill="#1e1e1e"/><path d="M191.6,173.7 L185.6,173.7 Q186.79999999999998,185.42 191.2,194.20999999999998 L191.6,194.796 Z" fill="#1e1e1e"/><rect x="160.4" y="173.7" width="31.19999999999999" height="1.2" fill="#3a3a3a"/><ellipse cx="168.8" cy="203.3" rx="6.24" ry="4.60" fill="#383838"/><ellipse cx="183.5" cy="203.3" rx="6.24" ry="4.60" fill="#383838"/><ellipse cx="176.2" cy="203.3" rx="1.56" ry="4.14" fill="#b8b8b8"/>
<ellipse cx="177.0" cy="184.0" rx="9.20" ry="6.70" fill="#d3cbee"/><ellipse cx="182.4" cy="184.8" rx="4.30" ry="4.30" fill="#d3cbee"/><ellipse cx="170.0" cy="192.2" rx="4.20" ry="6.20" fill="#d3cbee"/><ellipse cx="177.0" cy="184.0" rx="10.00" ry="7.00" fill="#d3cbee"/><ellipse cx="177.0" cy="184.0" rx="8.00" ry="5.50" fill="#5a4cd0"/><ellipse cx="182.4" cy="184.8" rx="3.00" ry="3.00" fill="#4636c8"/><ellipse cx="170.0" cy="192.2" rx="3.00" ry="5.00" fill="#5a4cd0"/><ellipse cx="182.4" cy="184.8" rx="1.50" ry="1.50" fill="#35b6e8"/>
</g></g>
<g clip-path="url(#c46)"><g filter="url(#bl)">
<rect x="160.4" y="203.7" width="31.19999999999999" height="29.3" fill="url(#mg)"/><ellipse cx="173.5" cy="212.5" rx="9.36" ry="6.45" fill="#e2e2e2"/><ellipse cx="175.4" cy="223.6" rx="10.30" ry="5.57" fill="#b4b4b4"/><ellipse cx="174.4" cy="224.2" rx="6.24" ry="3.22" fill="#a2a2a2"/><path d="M160.4,203.7 L163.4,203.7 Q162.95000000000002,215.42 160.9,223.03799999999998 L160.4,223.624 Z" fill="#1e1e1e"/><path d="M191.6,203.7 L185.6,203.7 Q186.79999999999998,215.42 191.2,224.20999999999998 L191.6,224.796 Z" fill="#1e1e1e"/><rect x="160.4" y="203.7" width="31.19999999999999" height="1.2" fill="#3a3a3a"/><ellipse cx="168.8" cy="233.3" rx="6.24" ry="4.00" fill="#383838"/><ellipse cx="183.5" cy="233.3" rx="6.24" ry="4.00" fill="#383838"/><ellipse cx="176.2" cy="233.3" rx="1.56" ry="3.60" fill="#b8b8b8"/>
<ellipse cx="177.0" cy="213.5" rx="6.20" ry="3.40" fill="#d3cbee" transform="rotate(-40 177.0 213.5)"/><ellipse cx="177.0" cy="213.5" rx="5.00" ry="2.20" fill="#5a4cd0" transform="rotate(-40 177.0 213.5)"/><ellipse cx="167.9" cy="224.5" rx="7.30" ry="7.30" fill="#ec9a86"/><ellipse cx="167.9" cy="224.5" rx="6.50" ry="6.50" fill="#d9422c"/><ellipse cx="167.9" cy="224.5" rx="5.20" ry="5.20" fill="#e27c42"/><ellipse cx="167.9" cy="224.5" rx="2.93" ry="2.93" fill="#cf9448"/>
</g></g>
<g clip-path="url(#c50)"><g filter="url(#bl)">
<rect x="192.2" y="23.7" width="30.0" height="29.3" fill="url(#mg)"/><ellipse cx="204.8" cy="32.5" rx="9.00" ry="6.45" fill="#e2e2e2"/><ellipse cx="206.6" cy="43.6" rx="9.90" ry="5.57" fill="#b4b4b4"/><ellipse cx="205.7" cy="44.2" rx="6.00" ry="3.22" fill="#a2a2a2"/><path d="M192.2,23.7 L194.6,23.7 Q194.23999999999998,35.42 192.7,43.038 L192.2,43.624 Z" fill="#1e1e1e"/><path d="M222.2,23.7 L218.0,23.7 Q218.83999999999997,35.42 221.79999999999998,44.209999999999994 L222.2,44.796 Z" fill="#1e1e1e"/><rect x="192.2" y="23.7" width="30.0" height="1.2" fill="#3a3a3a"/><ellipse cx="200.3" cy="53.3" rx="6.00" ry="6.00" fill="#383838"/><ellipse cx="214.4" cy="53.3" rx="6.00" ry="6.00" fill="#383838"/><ellipse cx="207.3" cy="53.3" rx="1.50" ry="5.40" fill="#b8b8b8"/>
<ellipse cx="209.5" cy="33.5" rx="5.20" ry="3.20" fill="#d3cbee"/><ellipse cx="194.7" cy="36.5" rx="2.20" ry="2.20" fill="#d3cbee"/><ellipse cx="209.5" cy="33.5" rx="6.00" ry="3.50" fill="#d3cbee"/><ellipse cx="209.5" cy="33.5" rx="4.00" ry="2.00" fill="#5a4cd0"/><ellipse cx="194.7" cy="36.5" rx="1.00" ry="1.00" fill="#5a4cd0"/>
</g></g>
<g clip-path="url(#c51)"><g filter="url(#bl)">
<rect x="192.2" y="53.7" width="30.0" height="29.3" fill="url(#mg)"/><ellipse cx="204.8" cy="62.5" rx="9.00" ry="6.45" fill="#e2e2e2"/><ellipse cx="206.6" cy="73.6" rx="9.90" ry="5.57" fill="#b4b4b4"/><ellipse cx="205.7" cy="74.2" rx="6.00" ry="3.22" fill="#a2a2a2"/><path d="M192.2,53.7 L194.6,53.7 Q194.23999999999998,65.42 192.7,73.03800000000001 L192.2,73.62400000000001 Z" fill="#1e1e1e"/><path d="M222.2,53.7 L218.0,53.7 Q218.83999999999997,65.42 221.79999999999998,74.21000000000001 L222.2,74.796 Z" fill="#1e1e1e"/><rect x="192.2" y="53.7" width="30.0" height="1.2" fill="#3a3a3a"/><ellipse cx="200.3" cy="83.3" rx="6.00" ry="3.60" fill="#383838"/><ellipse cx="214.4" cy="83.3" rx="6.00" ry="3.60" fill="#383838"/><ellipse cx="207.3" cy="83.3" rx="1.50" ry="3.24" fill="#b8b8b8"/>
<ellipse cx="203.0" cy="68.0" rx="7.70" ry="14.20" fill="#d3cbee" transform="rotate(25 203.0 68.0)"/><ellipse cx="201.1" cy="74.8" rx="7.30" ry="8.30" fill="#d3cbee" transform="rotate(20 201.1 74.8)"/><ellipse cx="201.1" cy="61.8" rx="3.80" ry="4.30" fill="#d3cbee"/><ellipse cx="208.5" cy="66.8" rx="3.80" ry="4.30" fill="#d3cbee"/><ellipse cx="215.2" cy="63.0" rx="2.70" ry="2.70" fill="#d3cbee"/><ellipse cx="207.2" cy="57.0" rx="3.20" ry="2.70" fill="#d3cbee"/><ellipse cx="204.0" cy="68.0" rx="10.00" ry="15.00" fill="#d3cbee" transform="rotate(25 204.0 68.0)"/><ellipse cx="203.0" cy="68.0" rx="6.50" ry="13.00" fill="#5a4cd0" transform="rotate(25 203.0 68.0)"/><ellipse cx="201.1" cy="74.8" rx="6.00" ry="7.00" fill="#4636c8" transform="rotate(20 201.1 74.8)"/><ellipse cx="201.1" cy="61.8" rx="2.50" ry="3.00" fill="#4636c8"/><ellipse cx="208.5" cy="66.8" rx="2.50" ry="3.00" fill="#4636c8"/><ellipse cx="215.2" cy="63.0" rx="1.50" ry="1.50" fill="#5a4cd0"/><ellipse cx="207.2" cy="57.0" rx="2.00" ry="1.50" fill="#5a4cd0"/><ellipse cx="201.1" cy="74.8" rx="4.80" ry="5.60" fill="#35b6e8" transform="rotate(20 201.1 74.8)"/><ellipse cx="201.1" cy="74.8" rx="3.60" ry="4.20" fill="#45d14e" transform="rotate(20 201.1 74.8)"/><ellipse cx="201.1" cy="74.8" rx="2.52" ry="2.94" fill="#f2e232" transform="rotate(20 201.1 74.8)"/><ellipse cx="201.1" cy="74.8" rx="1.44" ry="1.68" fill="#e3321c" transform="rotate(20 201.1 74.8)"/><ellipse cx="201.1" cy="61.8" rx="1.25" ry="1.50" fill="#35b6e8"/><ellipse cx="208.5" cy="66.8" rx="1.25" ry="1.50" fill="#35b6e8"/>
</g></g>
<g clip-path="url(#c52)"><g filter="url(#bl)">
<rect x="192.2" y="83.7" width="30.0" height="29.3" fill="url(#mg)"/><ellipse cx="204.8" cy="92.5" rx="9.00" ry="6.45" fill="#e2e2e2"/><ellipse cx="206.6" cy="103.6" rx="9.90" ry="5.57" fill="#b4b4b4"/><ellipse cx="205.7" cy="104.2" rx="6.00" ry="3.22" fill="#a2a2a2"/><path d="M192.2,83.7 L194.6,83.7 Q194.23999999999998,95.42 192.7,103.03800000000001 L192.2,103.62400000000001 Z" fill="#1e1e1e"/><path d="M222.2,83.7 L218.0,83.7 Q218.83999999999997,95.42 221.79999999999998,104.21000000000001 L222.2,104.796 Z" fill="#1e1e1e"/><rect x="192.2" y="83.7" width="30.0" height="1.2" fill="#3a3a3a"/><ellipse cx="200.3" cy="113.3" rx="6.00" ry="5.60" fill="#383838"/><ellipse cx="214.4" cy="113.3" rx="6.00" ry="5.60" fill="#383838"/><ellipse cx="207.3" cy="113.3" rx="1.50" ry="5.04" fill="#b8b8b8"/>
<ellipse cx="200.8" cy="86.7" rx="3.20" ry="2.70" fill="#d3cbee"/><ellipse cx="197.2" cy="97.8" rx="4.20" ry="4.20" fill="#d3cbee"/><ellipse cx="210.7" cy="96.5" rx="4.20" ry="4.20" fill="#d3cbee"/><ellipse cx="204.5" cy="110.0" rx="3.30" ry="3.30" fill="#d3cbee"/><ellipse cx="200.8" cy="86.7" rx="2.00" ry="1.50" fill="#5a4cd0"/><ellipse cx="197.2" cy="97.8" rx="3.00" ry="3.00" fill="#5a4cd0"/><ellipse cx="210.7" cy="96.5" rx="3.00" ry="3.00" fill="#5a4cd0"/><ellipse cx="204.5" cy="110.0" rx="2.00" ry="2.00" fill="#4636c8"/>
</g></g>
<g clip-path="url(#c53)"><g filter="url(#bl)">
<rect x="192.2" y="113.7" width="30.0" height="29.3" fill="url(#mg)"/><ellipse cx="204.8" cy="122.5" rx="9.00" ry="6.45" fill="#e2e2e2"/><ellipse cx="206.6" cy="133.6" rx="9.90" ry="5.57" fill="#b4b4b4"/><ellipse cx="205.7" cy="134.2" rx="6.00" ry="3.22" fill="#a2a2a2"/><path d="M192.2,113.7 L194.6,113.7 Q194.23999999999998,125.42 192.7,133.038 L192.2,133.624 Z" fill="#1e1e1e"/><path d="M222.2,113.7 L218.0,113.7 Q218.83999999999997,125.42 221.79999999999998,134.21 L222.2,134.796 Z" fill="#1e1e1e"/><rect x="192.2" y="113.7" width="30.0" height="1.2" fill="#3a3a3a"/><ellipse cx="200.3" cy="143.3" rx="6.00" ry="3.60" fill="#383838"/><ellipse cx="214.4" cy="143.3" rx="6.00" ry="3.60" fill="#383838"/><ellipse cx="207.3" cy="143.3" rx="1.50" ry="3.24" fill="#b8b8b8"/>
<ellipse cx="208.2" cy="126.0" rx="3.20" ry="3.20" fill="#d3cbee"/><ellipse cx="199.6" cy="134.7" rx="4.20" ry="5.20" fill="#d3cbee"/><ellipse cx="208.2" cy="126.0" rx="2.00" ry="2.00" fill="#5a4cd0"/><ellipse cx="199.6" cy="134.7" rx="3.00" ry="4.00" fill="#5a4cd0"/>
</g></g>
<g clip-path="url(#c54)"><g filter="url(#bl)">
<rect x="192.2" y="143.7" width="30.0" height="29.3" fill="url(#mg)"/><ellipse cx="204.8" cy="152.5" rx="9.00" ry="6.45" fill="#e2e2e2"/><ellipse cx="206.6" cy="163.6" rx="9.90" ry="5.57" fill="#b4b4b4"/><ellipse cx="205.7" cy="164.2" rx="6.00" ry="3.22" fill="#a2a2a2"/><path d="M192.2,143.7 L194.6,143.7 Q194.23999999999998,155.42 192.7,163.03799999999998 L192.2,163.624 Z" fill="#1e1e1e"/><path d="M222.2,143.7 L218.0,143.7 Q218.83999999999997,155.42 221.79999999999998,164.20999999999998 L222.2,164.796 Z" fill="#1e1e1e"/><rect x="192.2" y="143.7" width="30.0" height="1.2" fill="#3a3a3a"/><ellipse cx="200.3" cy="173.3" rx="6.00" ry="5.40" fill="#383838"/><ellipse cx="214.4" cy="173.3" rx="6.00" ry="5.40" fill="#383838"/><ellipse cx="207.3" cy="173.3" rx="1.50" ry="4.86" fill="#b8b8b8"/>
<ellipse cx="197.2" cy="163.9" rx="4.80" ry="4.80" fill="#d3cbee"/><ellipse cx="215.6" cy="154.0" rx="2.20" ry="2.20" fill="#d3cbee"/><ellipse cx="197.2" cy="163.9" rx="3.50" ry="3.50" fill="#4636c8"/><ellipse cx="215.6" cy="154.0" rx="1.00" ry="1.00" fill="#5a4cd0"/><ellipse cx="197.2" cy="163.9" rx="1.75" ry="1.75" fill="#35b6e8"/>
</g></g>
<g clip-path="url(#c55)"><g filter="url(#bl)">
<rect x="192.2" y="173.7" width="30.0" height="29.3" fill="url(#mg)"/><ellipse cx="204.8" cy="182.5" rx="9.00" ry="6.45" fill="#e2e2e2"/><ellipse cx="206.6" cy="193.6" rx="9.90" ry="5.57" fill="#b4b4b4"/><ellipse cx="205.7" cy="194.2" rx="6.00" ry="3.22" fill="#a2a2a2"/><path d="M192.2,173.7 L194.6,173.7 Q194.23999999999998,185.42 192.7,193.03799999999998 L192.2,193.624 Z" fill="#1e1e1e"/><path d="M222.2,173.7 L218.0,173.7 Q218.83999999999997,185.42 221.79999999999998,194.20999999999998 L222.2,194.796 Z" fill="#1e1e1e"/><rect x="192.2" y="173.7" width="30.0" height="1.2" fill="#3a3a3a"/><ellipse cx="200.3" cy="203.3" rx="6.00" ry="4.60" fill="#383838"/><ellipse cx="214.4" cy="203.3" rx="6.00" ry="4.60" fill="#383838"/><ellipse cx="207.3" cy="203.3" rx="1.50" ry="4.14" fill="#b8b8b8"/>
<ellipse cx="205.8" cy="186.8" rx="3.70" ry="3.70" fill="#d3cbee"/><ellipse cx="205.8" cy="186.8" rx="2.50" ry="2.50" fill="#5a4cd0"/>
</g></g>
<g clip-path="url(#c56)"><g filter="url(#bl)">
<rect x="192.2" y="203.7" width="30.0" height="29.3" fill="url(#mg)"/><ellipse cx="204.8" cy="212.5" rx="9.00" ry="6.45" fill="#e2e2e2"/><ellipse cx="206.6" cy="223.6" rx="9.90" ry="5.57" fill="#b4b4b4"/><ellipse cx="205.7" cy="224.2" rx="6.00" ry="3.22" fill="#a2a2a2"/><path d="M192.2,203.7 L194.6,203.7 Q194.23999999999998,215.42 192.7,223.03799999999998 L192.2,223.624 Z" fill="#1e1e1e"/><path d="M222.2,203.7 L218.0,203.7 Q218.83999999999997,215.42 221.79999999999998,224.20999999999998 L222.2,224.796 Z" fill="#1e1e1e"/><rect x="192.2" y="203.7" width="30.0" height="1.2" fill="#3a3a3a"/><ellipse cx="200.3" cy="233.3" rx="6.00" ry="4.00" fill="#383838"/><ellipse cx="214.4" cy="233.3" rx="6.00" ry="4.00" fill="#383838"/><ellipse cx="207.3" cy="233.3" rx="1.50" ry="3.60" fill="#b8b8b8"/>
<ellipse cx="209.5" cy="218.2" rx="2.70" ry="3.70" fill="#d3cbee"/><ellipse cx="209.5" cy="218.2" rx="1.50" ry="2.50" fill="#5a4cd0"/><ellipse cx="199.5" cy="226.2" rx="7.30" ry="7.30" fill="#ec9a86"/><ellipse cx="199.5" cy="226.2" rx="6.50" ry="6.50" fill="#d9422c"/><ellipse cx="199.5" cy="226.2" rx="5.20" ry="5.20" fill="#e27c42"/><ellipse cx="199.5" cy="226.2" rx="2.93" ry="2.93" fill="#cf9448"/>
</g></g>
<g clip-path="url(#c60)"><g filter="url(#bl)">
<rect x="226.3" y="23.7" width="26.5" height="29.3" fill="url(#mg)"/><ellipse cx="237.4" cy="32.5" rx="7.95" ry="6.45" fill="#e2e2e2"/><ellipse cx="239.0" cy="43.6" rx="8.75" ry="5.57" fill="#b4b4b4"/><ellipse cx="238.2" cy="44.2" rx="5.30" ry="3.22" fill="#a2a2a2"/><path d="M226.3,23.7 L229.3,23.7 Q228.85000000000002,35.42 226.8,43.038 L226.3,43.624 Z" fill="#1e1e1e"/><path d="M252.8,23.7 L246.8,23.7 Q248.0,35.42 252.4,44.209999999999994 L252.8,44.796 Z" fill="#1e1e1e"/><rect x="226.3" y="23.7" width="26.5" height="1.2" fill="#3a3a3a"/><ellipse cx="233.5" cy="53.3" rx="5.30" ry="6.00" fill="#383838"/><ellipse cx="245.9" cy="53.3" rx="5.30" ry="6.00" fill="#383838"/><ellipse cx="239.7" cy="53.3" rx="1.33" ry="5.40" fill="#b8b8b8"/>
<ellipse cx="245.6" cy="29.9" rx="5.80" ry="5.80" fill="#d3cbee"/><ellipse cx="232.8" cy="41.5" rx="5.30" ry="5.30" fill="#d3cbee"/><ellipse cx="236.0" cy="38.0" rx="6.00" ry="6.00" fill="#d3cbee"/><ellipse cx="245.6" cy="29.9" rx="4.50" ry="4.50" fill="#4636c8"/><ellipse cx="232.8" cy="41.5" rx="4.00" ry="4.00" fill="#4636c8"/><ellipse cx="245.6" cy="29.9" rx="2.97" ry="2.97" fill="#35b6e8"/><ellipse cx="245.6" cy="29.9" rx="1.62" ry="1.62" fill="#45d14e"/><ellipse cx="232.8" cy="41.5" rx="2.00" ry="2.00" fill="#35b6e8"/>
</g></g>
<g clip-path="url(#c61)"><g filter="url(#bl)">
<rect x="226.3" y="53.7" width="26.5" height="29.3" fill="url(#mg)"/><ellipse cx="237.4" cy="62.5" rx="7.95" ry="6.45" fill="#e2e2e2"/><ellipse cx="239.0" cy="73.6" rx="8.75" ry="5.57" fill="#b4b4b4"/><ellipse cx="238.2" cy="74.2" rx="5.30" ry="3.22" fill="#a2a2a2"/><path d="M226.3,53.7 L229.3,53.7 Q228.85000000000002,65.42 226.8,73.03800000000001 L226.3,73.62400000000001 Z" fill="#1e1e1e"/><path d="M252.8,53.7 L246.8,53.7 Q248.0,65.42 252.4,74.21000000000001 L252.8,74.796 Z" fill="#1e1e1e"/><rect x="226.3" y="53.7" width="26.5" height="1.2" fill="#3a3a3a"/><ellipse cx="233.5" cy="83.3" rx="5.30" ry="3.60" fill="#383838"/><ellipse cx="245.9" cy="83.3" rx="5.30" ry="3.60" fill="#383838"/><ellipse cx="239.7" cy="83.3" rx="1.33" ry="3.24" fill="#b8b8b8"/>
<ellipse cx="236.0" cy="70.0" rx="8.70" ry="10.70" fill="#d3cbee"/><ellipse cx="245.0" cy="67.0" rx="6.20" ry="6.20" fill="#d3cbee"/><ellipse cx="235.0" cy="70.5" rx="6.80" ry="10.30" fill="#d3cbee"/><ellipse cx="240.0" cy="68.0" rx="12.00" ry="12.00" fill="#d3cbee"/><ellipse cx="236.0" cy="70.0" rx="7.50" ry="9.50" fill="#5a4cd0"/><ellipse cx="245.0" cy="67.0" rx="5.00" ry="5.00" fill="#5a4cd0"/><ellipse cx="235.0" cy="70.5" rx="5.50" ry="9.00" fill="#4636c8"/><ellipse cx="235.0" cy="70.5" rx="3.63" ry="5.94" fill="#35b6e8"/><ellipse cx="235.0" cy="70.5" rx="1.98" ry="3.24" fill="#45d14e"/>
</g></g>
<g clip-path="url(#c62)"><g filter="url(#bl)">
<rect x="226.3" y="83.7" width="26.5" height="29.3" fill="url(#mg)"/><ellipse cx="237.4" cy="92.5" rx="7.95" ry="6.45" fill="#e2e2e2"/><ellipse cx="239.0" cy="103.6" rx="8.75" ry="5.57" fill="#b4b4b4"/><ellipse cx="238.2" cy="104.2" rx="5.30" ry="3.22" fill="#a2a2a2"/><path d="M226.3,83.7 L229.3,83.7 Q228.85000000000002,95.42 226.8,103.03800000000001 L226.3,103.62400000000001 Z" fill="#1e1e1e"/><path d="M252.8,83.7 L246.8,83.7 Q248.0,95.42 252.4,104.21000000000001 L252.8,104.796 Z" fill="#1e1e1e"/><rect x="226.3" y="83.7" width="26.5" height="1.2" fill="#3a3a3a"/><ellipse cx="233.5" cy="113.3" rx="5.30" ry="5.60" fill="#383838"/><ellipse cx="245.9" cy="113.3" rx="5.30" ry="5.60" fill="#383838"/><ellipse cx="239.7" cy="113.3" rx="1.33" ry="5.04" fill="#b8b8b8"/>
<ellipse cx="235.3" cy="100.2" rx="6.30" ry="6.30" fill="#d3cbee"/><ellipse cx="244.0" cy="97.8" rx="4.20" ry="4.20" fill="#d3cbee"/><ellipse cx="233.0" cy="87.0" rx="2.70" ry="2.70" fill="#d3cbee"/><ellipse cx="238.0" cy="99.0" rx="8.00" ry="7.00" fill="#d3cbee"/><ellipse cx="235.3" cy="100.2" rx="5.00" ry="5.00" fill="#4636c8"/><ellipse cx="244.0" cy="97.8" rx="3.00" ry="3.00" fill="#5a4cd0"/><ellipse cx="233.0" cy="87.0" rx="1.50" ry="1.50" fill="#5a4cd0"/>
</g></g>
<g clip-path="url(#c63)"><g filter="url(#bl)">
<rect x="226.3" y="113.7" width="26.5" height="29.3" fill="url(#mg)"/><ellipse cx="237.4" cy="122.5" rx="7.95" ry="6.45" fill="#e2e2e2"/><ellipse cx="239.0" cy="133.6" rx="8.75" ry="5.57" fill="#b4b4b4"/><ellipse cx="238.2" cy="134.2" rx="5.30" ry="3.22" fill="#a2a2a2"/><path d="M226.3,113.7 L229.3,113.7 Q228.85000000000002,125.42 226.8,133.038 L226.3,133.624 Z" fill="#1e1e1e"/><path d="M252.8,113.7 L246.8,113.7 Q248.0,125.42 252.4,134.21 L252.8,134.796 Z" fill="#1e1e1e"/><rect x="226.3" y="113.7" width="26.5" height="1.2" fill="#3a3a3a"/><ellipse cx="233.5" cy="143.3" rx="5.30" ry="3.60" fill="#383838"/><ellipse cx="245.9" cy="143.3" rx="5.30" ry="3.60" fill="#383838"/><ellipse cx="239.7" cy="143.3" rx="1.33" ry="3.24" fill="#b8b8b8"/>
<ellipse cx="235.3" cy="135.2" rx="4.70" ry="4.70" fill="#d3cbee"/><ellipse cx="235.3" cy="135.2" rx="3.50" ry="3.50" fill="#5a4cd0"/>
</g></g>
<g clip-path="url(#c64)"><g filter="url(#bl)">
<rect x="226.3" y="143.7" width="26.5" height="29.3" fill="url(#mg)"/><ellipse cx="237.4" cy="152.5" rx="7.95" ry="6.45" fill="#e2e2e2"/><ellipse cx="239.0" cy="163.6" rx="8.75" ry="5.57" fill="#b4b4b4"/><ellipse cx="238.2" cy="164.2" rx="5.30" ry="3.22" fill="#a2a2a2"/><path d="M226.3,143.7 L229.3,143.7 Q228.85000000000002,155.42 226.8,163.03799999999998 L226.3,163.624 Z" fill="#1e1e1e"/><path d="M252.8,143.7 L246.8,143.7 Q248.0,155.42 252.4,164.20999999999998 L252.8,164.796 Z" fill="#1e1e1e"/><rect x="226.3" y="143.7" width="26.5" height="1.2" fill="#3a3a3a"/><ellipse cx="233.5" cy="173.3" rx="5.30" ry="5.40" fill="#383838"/><ellipse cx="245.9" cy="173.3" rx="5.30" ry="5.40" fill="#383838"/><ellipse cx="239.7" cy="173.3" rx="1.33" ry="4.86" fill="#b8b8b8"/>
<ellipse cx="232.8" cy="150.4" rx="3.50" ry="3.20" fill="#d3cbee"/><ellipse cx="240.2" cy="149.2" rx="3.70" ry="3.00" fill="#d3cbee"/><ellipse cx="246.4" cy="150.4" rx="4.20" ry="3.40" fill="#d3cbee"/><ellipse cx="248.8" cy="156.5" rx="3.20" ry="3.20" fill="#d3cbee"/><ellipse cx="237.8" cy="156.5" rx="4.20" ry="3.40" fill="#d3cbee"/><ellipse cx="242.7" cy="154.0" rx="3.20" ry="3.20" fill="#d3cbee"/><ellipse cx="232.8" cy="163.9" rx="5.80" ry="5.80" fill="#d3cbee"/><ellipse cx="241.0" cy="154.0" rx="11.00" ry="7.00" fill="#d3cbee"/><ellipse cx="232.8" cy="150.4" rx="2.30" ry="2.00" fill="#5a4cd0"/><ellipse cx="240.2" cy="149.2" rx="2.50" ry="1.80" fill="#5a4cd0"/><ellipse cx="246.4" cy="150.4" rx="3.00" ry="2.20" fill="#5a4cd0"/><ellipse cx="248.8" cy="156.5" rx="2.00" ry="2.00" fill="#5a4cd0"/><ellipse cx="237.8" cy="156.5" rx="3.00" ry="2.20" fill="#5a4cd0"/><ellipse cx="242.7" cy="154.0" rx="2.00" ry="2.00" fill="#5a4cd0"/><ellipse cx="232.8" cy="163.9" rx="4.50" ry="4.50" fill="#4636c8"/><ellipse cx="232.8" cy="163.9" rx="2.97" ry="2.97" fill="#35b6e8"/><ellipse cx="232.8" cy="163.9" rx="1.62" ry="1.62" fill="#45d14e"/>
</g></g>
<g clip-path="url(#c65)"><g filter="url(#bl)">
<rect x="226.3" y="173.7" width="26.5" height="29.3" fill="url(#mg)"/><ellipse cx="237.4" cy="182.5" rx="7.95" ry="6.45" fill="#e2e2e2"/><ellipse cx="239.0" cy="193.6" rx="8.75" ry="5.57" fill="#b4b4b4"/><ellipse cx="238.2" cy="194.2" rx="5.30" ry="3.22" fill="#a2a2a2"/><path d="M226.3,173.7 L229.3,173.7 Q228.85000000000002,185.42 226.8,193.03799999999998 L226.3,193.624 Z" fill="#1e1e1e"/><path d="M252.8,173.7 L246.8,173.7 Q248.0,185.42 252.4,194.20999999999998 L252.8,194.796 Z" fill="#1e1e1e"/><rect x="226.3" y="173.7" width="26.5" height="1.2" fill="#3a3a3a"/><ellipse cx="233.5" cy="203.3" rx="5.30" ry="4.60" fill="#383838"/><ellipse cx="245.9" cy="203.3" rx="5.30" ry="4.60" fill="#383838"/><ellipse cx="239.7" cy="203.3" rx="1.33" ry="4.14" fill="#b8b8b8"/>
<ellipse cx="235.3" cy="182.4" rx="7.30" ry="5.30" fill="#d3cbee"/><ellipse cx="236.0" cy="182.0" rx="10.00" ry="6.00" fill="#d3cbee"/><ellipse cx="235.3" cy="182.4" rx="6.00" ry="4.00" fill="#4636c8"/><ellipse cx="235.3" cy="182.4" rx="3.00" ry="2.00" fill="#35b6e8"/>
</g></g>
<g clip-path="url(#c66)"><g filter="url(#bl)">
<rect x="226.3" y="203.7" width="26.5" height="29.3" fill="url(#mg)"/><ellipse cx="237.4" cy="212.5" rx="7.95" ry="6.45" fill="#e2e2e2"/><ellipse cx="239.0" cy="223.6" rx="8.75" ry="5.57" fill="#b4b4b4"/><ellipse cx="238.2" cy="224.2" rx="5.30" ry="3.22" fill="#a2a2a2"/><path d="M226.3,203.7 L229.3,203.7 Q228.85000000000002,215.42 226.8,223.03799999999998 L226.3,223.624 Z" fill="#1e1e1e"/><path d="M252.8,203.7 L246.8,203.7 Q248.0,215.42 252.4,224.20999999999998 L252.8,224.796 Z" fill="#1e1e1e"/><rect x="226.3" y="203.7" width="26.5" height="1.2" fill="#3a3a3a"/><ellipse cx="233.5" cy="233.3" rx="5.30" ry="4.00" fill="#383838"/><ellipse cx="245.9" cy="233.3" rx="5.30" ry="4.00" fill="#383838"/><ellipse cx="239.7" cy="233.3" rx="1.33" ry="3.60" fill="#b8b8b8"/>
<ellipse cx="235.3" cy="217.0" rx="4.20" ry="4.20" fill="#d3cbee"/><ellipse cx="235.0" cy="218.0" rx="5.00" ry="5.00" fill="#d3cbee"/><ellipse cx="235.3" cy="217.0" rx="3.00" ry="3.00" fill="#5a4cd0"/><ellipse cx="234.8" cy="225.0" rx="6.10" ry="6.10" fill="#eea090"/><ellipse cx="234.8" cy="225.0" rx="5.50" ry="5.50" fill="#dc4a3a"/><ellipse cx="234.8" cy="225.0" rx="4.10" ry="4.10" fill="#e8906e"/><ellipse cx="234.8" cy="225.0" rx="2.75" ry="2.75" fill="#e7a77a"/><ellipse cx="234.8" cy="225.0" rx="1.65" ry="1.65" fill="#5cc060"/>
</g></g>
<g clip-path="url(#c70)"><g filter="url(#bl)">
<rect x="253.4" y="23.7" width="32.900000000000006" height="29.3" fill="url(#mg)"/><ellipse cx="267.2" cy="32.5" rx="9.87" ry="6.45" fill="#e2e2e2"/><ellipse cx="269.2" cy="43.6" rx="10.86" ry="5.57" fill="#b4b4b4"/><ellipse cx="268.2" cy="44.2" rx="6.58" ry="3.22" fill="#a2a2a2"/><path d="M253.4,23.7 L255.8,23.7 Q255.44,35.42 253.9,43.038 L253.4,43.624 Z" fill="#1e1e1e"/><path d="M286.3,23.7 L282.1,23.7 Q282.94,35.42 285.90000000000003,44.209999999999994 L286.3,44.796 Z" fill="#1e1e1e"/><rect x="253.4" y="23.7" width="32.900000000000006" height="1.2" fill="#3a3a3a"/><ellipse cx="262.3" cy="53.3" rx="6.58" ry="6.00" fill="#383838"/><ellipse cx="277.7" cy="53.3" rx="6.58" ry="6.00" fill="#383838"/><ellipse cx="270.0" cy="53.3" rx="1.65" ry="5.40" fill="#b8b8b8"/>
<ellipse cx="258.7" cy="34.1" rx="2.70" ry="2.70" fill="#d3cbee"/><ellipse cx="274.7" cy="30.4" rx="2.40" ry="2.40" fill="#d3cbee"/><ellipse cx="265.0" cy="40.0" rx="2.70" ry="2.70" fill="#d3cbee"/><ellipse cx="258.7" cy="34.1" rx="1.50" ry="1.50" fill="#5a4cd0"/><ellipse cx="274.7" cy="30.4" rx="1.20" ry="1.20" fill="#5a4cd0"/><ellipse cx="265.0" cy="40.0" rx="1.50" ry="1.50" fill="#5a4cd0"/>
</g></g>
<g clip-path="url(#c71)"><g filter="url(#bl)">
<rect x="253.4" y="53.7" width="32.900000000000006" height="29.3" fill="url(#mg)"/><ellipse cx="267.2" cy="62.5" rx="9.87" ry="6.45" fill="#e2e2e2"/><ellipse cx="269.2" cy="73.6" rx="10.86" ry="5.57" fill="#b4b4b4"/><ellipse cx="268.2" cy="74.2" rx="6.58" ry="3.22" fill="#a2a2a2"/><path d="M253.4,53.7 L255.8,53.7 Q255.44,65.42 253.9,73.03800000000001 L253.4,73.62400000000001 Z" fill="#1e1e1e"/><path d="M286.3,53.7 L282.1,53.7 Q282.94,65.42 285.90000000000003,74.21000000000001 L286.3,74.796 Z" fill="#1e1e1e"/><rect x="253.4" y="53.7" width="32.900000000000006" height="1.2" fill="#3a3a3a"/><ellipse cx="262.3" cy="83.3" rx="6.58" ry="3.60" fill="#383838"/><ellipse cx="277.7" cy="83.3" rx="6.58" ry="3.60" fill="#383838"/><ellipse cx="270.0" cy="83.3" rx="1.65" ry="3.24" fill="#b8b8b8"/>
<ellipse cx="271.0" cy="67.0" rx="7.20" ry="10.20" fill="#d3cbee"/><ellipse cx="266.0" cy="71.0" rx="3.30" ry="3.30" fill="#d3cbee"/><ellipse cx="271.0" cy="67.0" rx="9.00" ry="10.00" fill="#d3cbee"/><ellipse cx="271.0" cy="67.0" rx="6.00" ry="9.00" fill="#5a4cd0"/><ellipse cx="266.0" cy="71.0" rx="2.00" ry="2.00" fill="#4636c8"/><ellipse cx="266.0" cy="71.0" rx="1.00" ry="1.00" fill="#35b6e8"/>
</g></g>
<g clip-path="url(#c72)"><g filter="url(#bl)">
<rect x="253.4" y="83.7" width="32.900000000000006" height="29.3" fill="url(#mg)"/><ellipse cx="267.2" cy="92.5" rx="9.87" ry="6.45" fill="#e2e2e2"/><ellipse cx="269.2" cy="103.6" rx="10.86" ry="5.57" fill="#b4b4b4"/><ellipse cx="268.2" cy="104.2" rx="6.58" ry="3.22" fill="#a2a2a2"/><path d="M253.4,83.7 L255.8,83.7 Q255.44,95.42 253.9,103.03800000000001 L253.4,103.62400000000001 Z" fill="#1e1e1e"/><path d="M286.3,83.7 L282.1,83.7 Q282.94,95.42 285.90000000000003,104.21000000000001 L286.3,104.796 Z" fill="#1e1e1e"/><rect x="253.4" y="83.7" width="32.900000000000006" height="1.2" fill="#3a3a3a"/><ellipse cx="262.3" cy="113.3" rx="6.58" ry="5.60" fill="#383838"/><ellipse cx="277.7" cy="113.3" rx="6.58" ry="5.60" fill="#383838"/><ellipse cx="270.0" cy="113.3" rx="1.65" ry="5.04" fill="#b8b8b8"/>
<ellipse cx="266.0" cy="97.0" rx="4.70" ry="8.20" fill="#d3cbee"/><ellipse cx="275.0" cy="88.0" rx="3.20" ry="3.20" fill="#d3cbee"/><ellipse cx="266.0" cy="97.0" rx="5.00" ry="9.00" fill="#d3cbee"/><ellipse cx="266.0" cy="97.0" rx="3.50" ry="7.00" fill="#5a4cd0"/><ellipse cx="275.0" cy="88.0" rx="2.00" ry="2.00" fill="#5a4cd0"/>
</g></g>
<g clip-path="url(#c73)"><g filter="url(#bl)">
<rect x="253.4" y="113.7" width="32.900000000000006" height="29.3" fill="url(#mg)"/><ellipse cx="267.2" cy="122.5" rx="9.87" ry="6.45" fill="#e2e2e2"/><ellipse cx="269.2" cy="133.6" rx="10.86" ry="5.57" fill="#b4b4b4"/><ellipse cx="268.2" cy="134.2" rx="6.58" ry="3.22" fill="#a2a2a2"/><path d="M253.4,113.7 L255.8,113.7 Q255.44,125.42 253.9,133.038 L253.4,133.624 Z" fill="#1e1e1e"/><path d="M286.3,113.7 L282.1,113.7 Q282.94,125.42 285.90000000000003,134.21 L286.3,134.796 Z" fill="#1e1e1e"/><rect x="253.4" y="113.7" width="32.900000000000006" height="1.2" fill="#3a3a3a"/><ellipse cx="262.3" cy="143.3" rx="6.58" ry="3.60" fill="#383838"/><ellipse cx="277.7" cy="143.3" rx="6.58" ry="3.60" fill="#383838"/><ellipse cx="270.0" cy="143.3" rx="1.65" ry="3.24" fill="#b8b8b8"/>
<ellipse cx="267.0" cy="125.0" rx="5.20" ry="7.20" fill="#d3cbee"/><ellipse cx="266.1" cy="131.0" rx="6.30" ry="8.30" fill="#d3cbee"/><ellipse cx="267.0" cy="127.0" rx="7.00" ry="12.00" fill="#d3cbee"/><ellipse cx="267.0" cy="125.0" rx="4.00" ry="6.00" fill="#5a4cd0"/><ellipse cx="266.1" cy="131.0" rx="5.00" ry="7.00" fill="#4636c8"/><ellipse cx="266.1" cy="131.0" rx="3.30" ry="4.62" fill="#35b6e8"/><ellipse cx="266.1" cy="131.0" rx="1.80" ry="2.52" fill="#45d14e"/>
</g></g>
<g clip-path="url(#c74)"><g filter="url(#bl)">
<rect x="253.4" y="143.7" width="32.900000000000006" height="29.3" fill="url(#mg)"/><ellipse cx="267.2" cy="152.5" rx="9.87" ry="6.45" fill="#e2e2e2"/><ellipse cx="269.2" cy="163.6" rx="10.86" ry="5.57" fill="#b4b4b4"/><ellipse cx="268.2" cy="164.2" rx="6.58" ry="3.22" fill="#a2a2a2"/><path d="M253.4,143.7 L255.8,143.7 Q255.44,155.42 253.9,163.03799999999998 L253.4,163.624 Z" fill="#1e1e1e"/><path d="M286.3,143.7 L282.1,143.7 Q282.94,155.42 285.90000000000003,164.20999999999998 L286.3,164.796 Z" fill="#1e1e1e"/><rect x="253.4" y="143.7" width="32.900000000000006" height="1.2" fill="#3a3a3a"/><ellipse cx="262.3" cy="173.3" rx="6.58" ry="5.40" fill="#383838"/><ellipse cx="277.7" cy="173.3" rx="6.58" ry="5.40" fill="#383838"/><ellipse cx="270.0" cy="173.3" rx="1.65" ry="4.86" fill="#b8b8b8"/>
<ellipse cx="269.0" cy="160.0" rx="7.20" ry="10.20" fill="#d3cbee"/><ellipse cx="266.1" cy="162.2" rx="5.80" ry="5.80" fill="#d3cbee"/><ellipse cx="269.0" cy="160.0" rx="8.00" ry="10.00" fill="#d3cbee"/><ellipse cx="269.0" cy="160.0" rx="6.00" ry="9.00" fill="#5a4cd0"/><ellipse cx="266.1" cy="162.2" rx="4.50" ry="4.50" fill="#4636c8"/><ellipse cx="266.1" cy="162.2" rx="2.97" ry="2.97" fill="#35b6e8"/><ellipse cx="266.1" cy="162.2" rx="1.62" ry="1.62" fill="#45d14e"/>
</g></g>
<g clip-path="url(#c75)"><g filter="url(#bl)">
<rect x="253.4" y="173.7" width="32.900000000000006" height="29.3" fill="url(#mg)"/><ellipse cx="267.2" cy="182.5" rx="9.87" ry="6.45" fill="#e2e2e2"/><ellipse cx="269.2" cy="193.6" rx="10.86" ry="5.57" fill="#b4b4b4"/><ellipse cx="268.2" cy="194.2" rx="6.58" ry="3.22" fill="#a2a2a2"/><path d="M253.4,173.7 L255.8,173.7 Q255.44,185.42 253.9,193.03799999999998 L253.4,193.624 Z" fill="#1e1e1e"/><path d="M286.3,173.7 L282.1,173.7 Q282.94,185.42 285.90000000000003,194.20999999999998 L286.3,194.796 Z" fill="#1e1e1e"/><rect x="253.4" y="173.7" width="32.900000000000006" height="1.2" fill="#3a3a3a"/><ellipse cx="262.3" cy="203.3" rx="6.58" ry="4.60" fill="#383838"/><ellipse cx="277.7" cy="203.3" rx="6.58" ry="4.60" fill="#383838"/><ellipse cx="270.0" cy="203.3" rx="1.65" ry="4.14" fill="#b8b8b8"/>
<ellipse cx="273.5" cy="184.8" rx="6.30" ry="5.30" fill="#d3cbee"/><ellipse cx="273.5" cy="184.8" rx="5.00" ry="4.00" fill="#4636c8"/><ellipse cx="273.5" cy="184.8" rx="2.50" ry="2.00" fill="#35b6e8"/>
</g></g>
<g clip-path="url(#c76)"><g filter="url(#bl)">
<rect x="253.4" y="203.7" width="32.900000000000006" height="29.3" fill="url(#mg)"/><ellipse cx="267.2" cy="212.5" rx="9.87" ry="6.45" fill="#e2e2e2"/><ellipse cx="269.2" cy="223.6" rx="10.86" ry="5.57" fill="#b4b4b4"/><ellipse cx="268.2" cy="224.2" rx="6.58" ry="3.22" fill="#a2a2a2"/><path d="M253.4,203.7 L255.8,203.7 Q255.44,215.42 253.9,223.03799999999998 L253.4,223.624 Z" fill="#1e1e1e"/><path d="M286.3,203.7 L282.1,203.7 Q282.94,215.42 285.90000000000003,224.20999999999998 L286.3,224.796 Z" fill="#1e1e1e"/><rect x="253.4" y="203.7" width="32.900000000000006" height="1.2" fill="#3a3a3a"/><ellipse cx="262.3" cy="233.3" rx="6.58" ry="4.00" fill="#383838"/><ellipse cx="277.7" cy="233.3" rx="6.58" ry="4.00" fill="#383838"/><ellipse cx="270.0" cy="233.3" rx="1.65" ry="3.60" fill="#b8b8b8"/>
<ellipse cx="274.7" cy="215.7" rx="4.20" ry="3.70" fill="#d3cbee"/><ellipse cx="274.7" cy="215.7" rx="3.00" ry="2.50" fill="#5a4cd0"/><ellipse cx="265.3" cy="224.3" rx="7.00" ry="7.00" fill="#ec9a86"/><ellipse cx="265.3" cy="224.3" rx="6.20" ry="6.20" fill="#d9422c"/><ellipse cx="265.3" cy="224.3" rx="4.90" ry="4.90" fill="#e27c42"/><ellipse cx="265.3" cy="224.3" rx="2.79" ry="2.79" fill="#cf9448"/>
</g></g>
<g clip-path="url(#cc0)"><g filter="url(#bl)">
<rect x="160.3" y="250.5" width="28.6" height="60" fill="#262626"/>
<path d="M166,250.5 L178.5,250.5 L180.5,256 L188.9,257.5 L188.9,262 L184.8,264.5 L184.6,297 L182.3,303.5 L181.5,310.5 L160.3,310.5 L160.3,297 L163.2,292 L163.2,264.5 L160.3,262 L160.3,257.5 L165,256.5 Z" fill="#c4c4c4"/>
<ellipse cx="172.5" cy="255.0" rx="4.50" ry="3.50" fill="#d6d6d6"/>
<ellipse cx="174.0" cy="276.0" rx="9.00" ry="11.00" fill="#d8d8d8"/>
<ellipse cx="174.0" cy="291.0" rx="8.00" ry="6.00" fill="#cacaca"/>
<ellipse cx="162.5" cy="254.0" rx="1.80" ry="1.80" fill="#bdbdbd"/>
<ellipse cx="186.0" cy="303.0" rx="2.00" ry="3.00" fill="#3a3a3a"/>
<ellipse cx="170.3" cy="301.8" rx="7.80" ry="7.80" fill="#ec9a86"/><ellipse cx="170.3" cy="301.8" rx="7.00" ry="7.00" fill="#d9422c"/><ellipse cx="170.3" cy="301.8" rx="5.70" ry="5.70" fill="#e27c42"/><ellipse cx="170.3" cy="301.8" rx="3.15" ry="3.15" fill="#cf9448"/>
</g></g>
<g clip-path="url(#cc1)"><g filter="url(#bl)">
<rect x="191.7" y="250.5" width="27.8" height="60" fill="#262626"/>
<path d="M196.5,250.5 L214,250.5 L215,256 L219.6,257.5 L219.6,262 L216.2,264.5 L216.6,310.5 L194.3,310.5 L194.6,264.5 L191.7,262 L191.7,257.5 L196,256 Z" fill="#dcd8ec"/>
<ellipse cx="203.5" cy="255.5" rx="5.50" ry="2.60" fill="#5a4cd0"/>
<ellipse cx="207.0" cy="254.5" rx="2.50" ry="2.00" fill="#5a4cd0"/>
<ellipse cx="205.5" cy="258.5" rx="1.50" ry="1.20" fill="#5a4cd0"/>
<ellipse cx="198.5" cy="268.5" rx="1.50" ry="3.50" fill="#5a4cd0"/>
<ellipse cx="209.5" cy="268.5" rx="1.50" ry="3.50" fill="#5a4cd0"/>
<ellipse cx="204.5" cy="262.0" rx="1.00" ry="2.00" fill="#8a80dc"/>
<ellipse cx="213.0" cy="273.0" rx="1.20" ry="1.60" fill="#5a4cd0"/>
<rect x="194.8" y="278.5" width="22.4" height="31" rx="4" fill="#c9bdea"/>
<rect x="195.6" y="279.3" width="21" height="30" rx="3.5" fill="#4636c8"/>
<rect x="196.6" y="280.6" width="19" height="25" rx="3" fill="#35b6e8"/>
<rect x="197.6" y="281.8" width="17" height="17" rx="2.5" fill="#45d14e"/>
<ellipse cx="205.5" cy="288.0" rx="3.00" ry="2.00" fill="#35b6e8"/>
<ellipse cx="206.5" cy="287.5" rx="1.50" ry="1.30" fill="#4636c8"/>
<ellipse cx="201.5" cy="293.0" rx="4.60" ry="4.60" fill="#35b6e8"/>
<ellipse cx="201.5" cy="293.0" rx="3.40" ry="3.40" fill="#45d14e"/>
<ellipse cx="201.5" cy="293.0" rx="2.38" ry="2.38" fill="#f2e232"/>
<ellipse cx="201.5" cy="293.0" rx="1.43" ry="1.43" fill="#e3321c"/>
<ellipse cx="211.2" cy="295.6" rx="4.60" ry="4.60" fill="#35b6e8"/>
<ellipse cx="211.2" cy="295.6" rx="3.40" ry="3.40" fill="#45d14e"/>
<ellipse cx="211.2" cy="295.6" rx="2.38" ry="2.38" fill="#f2e232"/>
<ellipse cx="211.2" cy="295.6" rx="1.43" ry="1.43" fill="#e3321c"/>
<ellipse cx="200.3" cy="299.3" rx="4.40" ry="4.40" fill="#35b6e8"/>
<ellipse cx="200.3" cy="299.3" rx="3.20" ry="3.20" fill="#45d14e"/>
<ellipse cx="200.3" cy="299.3" rx="2.24" ry="2.24" fill="#f2e232"/>
<ellipse cx="200.3" cy="299.3" rx="1.34" ry="1.34" fill="#e3321c"/>
<ellipse cx="198.2" cy="302.8" rx="2.60" ry="2.60" fill="#c03a8a"/>
<ellipse cx="198.2" cy="302.8" rx="1.30" ry="1.30" fill="#e6b0c0"/>
<ellipse cx="204.4" cy="306.5" rx="2.50" ry="2.50" fill="#4a3fc9"/>
<ellipse cx="204.4" cy="306.5" rx="1.20" ry="1.20" fill="#c8c0ea"/>
</g></g>
<text x="0.8" y="14" font-size="13" font-weight="bold">A</text>
<text x="65" y="8.9" font-size="11">Rluc</text>
<text x="196.7" y="8.9" font-size="11">NFAT-CBR</text>
<text x="22.2" y="21.5" font-size="10">5 x 10<tspan dy="-3.6" font-size="6.5">4</tspan><tspan dy="3.6"> ML</tspan></text>
<text x="86.3" y="21.5" font-size="10">5 x 10<tspan dy="-3.6" font-size="6.5">5</tspan><tspan dy="3.6"> ML</tspan></text>
<text x="169" y="21.5" font-size="10">5 x 10<tspan dy="-3.6" font-size="6.5">4</tspan><tspan dy="3.6"> ML</tspan></text>
<text x="233.3" y="21.5" font-size="10">5 x 10<tspan dy="-3.6" font-size="6.5">5</tspan><tspan dy="3.6"> ML</tspan></text>
<text x="145" y="41.8" font-size="10">d4</text>
<text x="145" y="69.8" font-size="10">d5</text>
<text x="145" y="103.1" font-size="10">d6</text>
<text x="145" y="133.1" font-size="10">d7</text>
<text x="143.3" y="162.6" font-size="10">d9</text>
<text x="142.9" y="192.3" font-size="10">d12</text>
<text x="142.5" y="219.4" font-size="10">d14</text>
<text x="131.8" y="256.8" font-size="12.5" font-weight="bold">C</text>
<text x="180.5" y="244" font-size="9.5">CD3</text>
<path d="M176,246.3 H206.5" stroke="#111" stroke-width="1.6"/><path d="M201.8,243.2 L207.6,246.3 L201.8,249.4" fill="none" stroke="#111" stroke-width="1.5"/>
<text x="143" y="273.6" font-size="10">d27</text>
<text x="300.4" y="14" font-size="13.3" font-weight="bold">B</text>
<g stroke="#3a3a3a" stroke-width="1.1" fill="none">
<path d="M338,16.6 V92.8 H451.5"/>
<path d="M335.8,92.3 H338"/>
<path d="M336.6,79.8 H338"/>
<path d="M335.8,67.2 H338"/>
<path d="M336.6,54.6 H338"/>
<path d="M335.8,42.1 H338"/>
<path d="M336.6,29.5 H338"/>
<path d="M335.8,17.0 H338"/>
<path d="M338.0,92.8 v2"/>
<path d="M356.9,92.8 v2"/>
<path d="M375.8,92.8 v2"/>
<path d="M394.7,92.8 v2"/>
<path d="M413.6,92.8 v2"/>
<path d="M432.5,92.8 v2"/>
<path d="M451.4,92.8 v2"/>
</g>
<path d="M338,17.0 H451" stroke="#333" stroke-width="1.1" stroke-dasharray="1.1,1.1"/>
<text x="335.2" y="19.4" font-size="6.9" text-anchor="end" fill="#222">1,500</text>
<text x="335.2" y="44.5" font-size="6.9" text-anchor="end" fill="#222">1,000</text>
<text x="335.2" y="69.6" font-size="6.9" text-anchor="end" fill="#222">500</text>
<text x="335.2" y="94.7" font-size="6.9" text-anchor="end" fill="#222">0</text>
<text x="338.0" y="101.3" font-size="7.5" text-anchor="middle" fill="#222">0</text>
<text x="356.9" y="101.3" font-size="7.5" text-anchor="middle" fill="#222">5</text>
<text x="375.8" y="101.3" font-size="7.5" text-anchor="middle" fill="#222">10</text>
<text x="394.7" y="101.3" font-size="7.5" text-anchor="middle" fill="#222">15</text>
<text x="413.6" y="101.3" font-size="7.5" text-anchor="middle" fill="#222">20</text>
<text x="432.5" y="101.3" font-size="7.5" text-anchor="middle" fill="#222">25</text>
<text x="451.4" y="101.3" font-size="7.5" text-anchor="middle" fill="#222">30</text>
<text x="394" y="113.3" font-size="7.7" text-anchor="middle" fill="#222">Days after ATT</text>
<text transform="translate(313.9,53) rotate(-90)" font-size="7.0" text-anchor="middle" fill="#222">Tumor volume (mm<tspan dy="-2.6" font-size="5.5">3</tspan><tspan dy="2.6">)</tspan></text>
<path d="M364.5,72.7 V58.2 M363.0,58.2 h3.0" stroke="#b5b5b5" stroke-width="0.7" fill="none"/>
<path d="M368.2,60.2 V39.6 M366.7,39.6 h3.0" stroke="#b5b5b5" stroke-width="0.7" fill="none"/>
<path d="M372.0,46.4 V17.0 M370.5,17.0 h3.0" stroke="#b5b5b5" stroke-width="0.7" fill="none"/>
<path d="M383.4,32.1 V17.0 M381.9,17.0 h3.0" stroke="#b5b5b5" stroke-width="0.7" fill="none"/>
<path d="M390.9,27.5 V17.0 M389.4,17.0 h3.0" stroke="#b5b5b5" stroke-width="0.7" fill="none"/>
<path d="M398.5,18.8 V17.0 M397.0,17.0 h3.0" stroke="#b5b5b5" stroke-width="0.7" fill="none"/>
<path d="M353.1,86.3 V79.8 M351.6,79.8 h3.0" stroke="#9cc5ea" stroke-width="0.7" fill="none"/>
<path d="M356.9,84.3 V76.2 M355.4,76.2 h3.0" stroke="#9cc5ea" stroke-width="0.7" fill="none"/>
<path d="M360.7,81.3 V69.7 M359.2,69.7 h3.0" stroke="#9cc5ea" stroke-width="0.7" fill="none"/>
<path d="M364.5,76.2 V71.2 M363.0,71.2 h3.0" stroke="#9cc5ea" stroke-width="0.7" fill="none"/>
<path d="M368.2,79.8 V71.2 M366.7,71.2 h3.0" stroke="#9cc5ea" stroke-width="0.7" fill="none"/>
<path d="M372.0,79.8 V71.2 M370.5,71.2 h3.0" stroke="#9cc5ea" stroke-width="0.7" fill="none"/>
<path d="M383.4,84.8 V80.8 M381.9,80.8 h3.0" stroke="#9cc5ea" stroke-width="0.7" fill="none"/>
<path d="M409.8,86.3 V82.3 M408.3,82.3 h3.0" stroke="#9cc5ea" stroke-width="0.7" fill="none"/>
<path d="M417.4,79.8 V77.2 M415.9,77.2 h3.0" stroke="#9cc5ea" stroke-width="0.7" fill="none"/>
<path d="M424.9,58.2 V24.0 M423.4,24.0 h3.0" stroke="#9cc5ea" stroke-width="0.7" fill="none"/>
<path d="M436.3,32.6 V17.0 M434.8,17.0 h3.0" stroke="#9cc5ea" stroke-width="0.7" fill="none"/>
<path d="M443.8,25.0 V17.0 M442.3,17.0 h3.0" stroke="#9cc5ea" stroke-width="0.7" fill="none"/>
<path d="M436.3,84.0 V77.2 M434.8,77.2 h3.0" stroke="#9cc5ea" stroke-width="0.7" fill="none"/>
<path d="M338.0,90.3 L345.6,89.3 L353.1,86.8 L356.9,84.8 L360.7,81.8 L364.5,72.7 L368.2,60.2 L372.0,46.4 L383.4,32.1 L390.9,27.5 L398.5,18.8 L404.1,17.0 L409.8,17.0" fill="none" stroke="#5a5a5a" stroke-width="0.9"/><circle cx="338.0" cy="90.3" r="0.9" fill="#5a5a5a"/><circle cx="345.6" cy="89.3" r="0.9" fill="#5a5a5a"/><circle cx="353.1" cy="86.8" r="0.9" fill="#5a5a5a"/><circle cx="356.9" cy="84.8" r="0.9" fill="#5a5a5a"/><circle cx="360.7" cy="81.8" r="0.9" fill="#5a5a5a"/><circle cx="364.5" cy="72.7" r="0.9" fill="#5a5a5a"/><circle cx="368.2" cy="60.2" r="0.9" fill="#5a5a5a"/><circle cx="372.0" cy="46.4" r="0.9" fill="#5a5a5a"/><circle cx="383.4" cy="32.1" r="0.9" fill="#5a5a5a"/><circle cx="390.9" cy="27.5" r="0.9" fill="#5a5a5a"/><circle cx="398.5" cy="18.8" r="0.9" fill="#5a5a5a"/><circle cx="404.1" cy="17.0" r="0.9" fill="#5a5a5a"/><circle cx="409.8" cy="17.0" r="0.9" fill="#5a5a5a"/>
<path d="M338.0,89.8 L345.6,88.8 L353.1,86.3 L356.9,83.3 L360.7,80.8 L364.5,76.2 L368.2,79.8 L372.0,79.8 L383.4,84.8 L390.9,86.8 L398.5,87.3 L409.8,86.3 L417.4,79.8 L424.9,58.2 L436.3,32.6 L443.8,25.0 L447.6,17.0" fill="none" stroke="#4f95d4" stroke-width="1.1" stroke-dasharray="2,1.2"/><circle cx="338.0" cy="89.8" r="0.9" fill="#4f95d4"/><circle cx="345.6" cy="88.8" r="0.9" fill="#4f95d4"/><circle cx="353.1" cy="86.3" r="0.9" fill="#4f95d4"/><circle cx="356.9" cy="83.3" r="0.9" fill="#4f95d4"/><circle cx="360.7" cy="80.8" r="0.9" fill="#4f95d4"/><circle cx="364.5" cy="76.2" r="0.9" fill="#4f95d4"/><circle cx="368.2" cy="79.8" r="0.9" fill="#4f95d4"/><circle cx="372.0" cy="79.8" r="0.9" fill="#4f95d4"/><circle cx="383.4" cy="84.8" r="0.9" fill="#4f95d4"/><circle cx="390.9" cy="86.8" r="0.9" fill="#4f95d4"/><circle cx="398.5" cy="87.3" r="0.9" fill="#4f95d4"/><circle cx="409.8" cy="86.3" r="0.9" fill="#4f95d4"/><circle cx="417.4" cy="79.8" r="0.9" fill="#4f95d4"/><circle cx="424.9" cy="58.2" r="0.9" fill="#4f95d4"/><circle cx="436.3" cy="32.6" r="0.9" fill="#4f95d4"/><circle cx="443.8" cy="25.0" r="0.9" fill="#4f95d4"/><circle cx="447.6" cy="17.0" r="0.9" fill="#4f95d4"/>
<path d="M338.0,89.8 L345.6,88.8 L353.1,86.3 L356.9,85.3 L360.7,84.8 L364.5,83.8 L372.0,87.3 L383.4,88.8 L398.5,89.3 L409.8,89.3 L417.4,89.3 L424.9,87.8 L436.3,84.0 L443.8,92.3 L447.6,90.3" fill="none" stroke="#3f7fbf" stroke-width="1.1"/><circle cx="338.0" cy="89.8" r="0.9" fill="#3f7fbf"/><circle cx="345.6" cy="88.8" r="0.9" fill="#3f7fbf"/><circle cx="353.1" cy="86.3" r="0.9" fill="#3f7fbf"/><circle cx="356.9" cy="85.3" r="0.9" fill="#3f7fbf"/><circle cx="360.7" cy="84.8" r="0.9" fill="#3f7fbf"/><circle cx="364.5" cy="83.8" r="0.9" fill="#3f7fbf"/><circle cx="372.0" cy="87.3" r="0.9" fill="#3f7fbf"/><circle cx="383.4" cy="88.8" r="0.9" fill="#3f7fbf"/><circle cx="398.5" cy="89.3" r="0.9" fill="#3f7fbf"/><circle cx="409.8" cy="89.3" r="0.9" fill="#3f7fbf"/><circle cx="417.4" cy="89.3" r="0.9" fill="#3f7fbf"/><circle cx="424.9" cy="87.8" r="0.9" fill="#3f7fbf"/><circle cx="436.3" cy="84.0" r="0.9" fill="#3f7fbf"/><circle cx="443.8" cy="92.3" r="0.9" fill="#3f7fbf"/><circle cx="447.6" cy="90.3" r="0.9" fill="#3f7fbf"/>
<text x="383.6" y="44" font-size="10" text-anchor="middle" fill="#555" style="stroke:none">‡</text>
<text x="409.8" y="27" font-size="9" text-anchor="middle" fill="#555" style="stroke:none">†</text>
<text x="436" y="41.5" font-size="9" text-anchor="middle" fill="#4f95d4" style="stroke:none">†</text>
<path d="M441,50 H450" stroke="#555" stroke-width="1"/><circle cx="445.5" cy="50" r="0.9" fill="#555"/>
<path d="M441,59.8 H450" stroke="#4f95d4" stroke-width="1.1" stroke-dasharray="2,1.2"/><circle cx="445.5" cy="59.8" r="0.9" fill="#4f95d4"/>
<path d="M441,69 H450" stroke="#3f7fbf" stroke-width="1.1"/><circle cx="445.5" cy="69" r="0.9" fill="#3f7fbf"/>
<text x="453.5" y="52.6" font-size="7.6" fill="#222">No TC</text>
<text x="453.5" y="62.6" font-size="7.6" fill="#222">5·10<tspan dy="-2.8" font-size="5.3">4</tspan><tspan dy="2.8"> TC</tspan></text>
<text x="453.5" y="71.8" font-size="7.6" fill="#222">5·10<tspan dy="-2.8" font-size="5.3">5</tspan><tspan dy="2.8"> TC</tspan></text>
<g stroke="#3a3a3a" stroke-width="1.1" fill="none">
<path d="M334.4,119.7 V136.6"/><path d="M334.4,142.8 V196.2 H451"/>
<path d="M332.2,119.7 H334.4"/>
<path d="M332.2,124 H334.4"/>
<path d="M332.2,131.2 H334.4"/>
<path d="M332.2,136.6 H334.4"/>
<path d="M332.2,195.8 H334.4"/>
<path d="M332.2,179.4 H334.4"/>
<path d="M332.2,163.0 H334.4"/>
<path d="M332.2,146.6 H334.4"/>
<path d="M332.6,136.9 L336.2,135.9 M332.6,142.5 L336.2,141.5"/>
<path d="M346.2,196.2 v2"/>
<path d="M366.8,196.2 v2"/>
<path d="M387.2,196.2 v2"/>
<path d="M407.8,196.2 v2"/>
<path d="M428.2,196.2 v2"/>
<path d="M448.8,196.2 v2"/>
</g>
<text x="331.6" y="126.5" font-size="6.9" text-anchor="end" fill="#222">2,000</text>
<text x="331.6" y="133.7" font-size="6.9" text-anchor="end" fill="#222">1,000</text>
<text x="331.6" y="149.1" font-size="6.9" text-anchor="end" fill="#222">300</text>
<text x="331.6" y="165.5" font-size="6.9" text-anchor="end" fill="#222">200</text>
<text x="331.6" y="181.9" font-size="6.9" text-anchor="end" fill="#222">100</text>
<text x="331.6" y="198.3" font-size="6.9" text-anchor="end" fill="#222">0</text>
<text x="346.2" y="205.3" font-size="7.6" text-anchor="middle" fill="#222">5</text>
<text x="366.8" y="205.3" font-size="7.6" text-anchor="middle" fill="#222">10</text>
<text x="387.2" y="205.3" font-size="7.6" text-anchor="middle" fill="#222">15</text>
<text x="407.8" y="205.3" font-size="7.6" text-anchor="middle" fill="#222">20</text>
<text x="428.2" y="205.3" font-size="7.6" text-anchor="middle" fill="#222">25</text>
<text x="448.8" y="205.3" font-size="7.6" text-anchor="middle" fill="#222">30</text>
<text x="392.5" y="217.5" font-size="7.7" text-anchor="middle" fill="#222">Days after ATT</text>
<text transform="translate(310.4,154.5) rotate(-90)" font-size="7.0" text-anchor="middle" fill="#222">Total flux (×10<tspan dy="-2.6" font-size="5.5">3</tspan><tspan dy="2.6"> p/s)</tspan></text>
<path d="M364.0,158.3 V144.5 M362.5,144.5 h3.0" stroke="#e68a80" stroke-width="0.7" fill="none"/>
<path d="M384.4,179.4 V169.5 M382.9,169.5 h3.0" stroke="#e68a80" stroke-width="0.7" fill="none"/>
<path d="M392.5,178.5 V171.0 M391.0,171.0 h3.0" stroke="#e68a80" stroke-width="0.7" fill="none"/>
<path d="M347.3,167.9 V162.0 M345.8,162.0 h3.0" stroke="#e68a80" stroke-width="0.7" fill="none"/>
<path d="M351.5,172.7 V165.0 M350.0,165.0 h3.0" stroke="#e68a80" stroke-width="0.7" fill="none"/>
<path d="M359.8,173.6 V169.0 M358.3,169.0 h3.0" stroke="#e68a80" stroke-width="0.7" fill="none"/>
<path d="M355.0,187.0 V190.0 M353.5,190.0 h3.0" stroke="#e68a80" stroke-width="0.7" fill="none"/>
<path d="M343.0,181.3 V176.0 M341.5,176.0 h3.0" stroke="#9ed08a" stroke-width="0.7" fill="none"/>
<path d="M342.5,174.6 V163.0 M341.0,163.0 h3.0" stroke="#9ed08a" stroke-width="0.7" fill="none"/>
<path d="M405.5,185.0 V180.0 M404.0,180.0 h3.0" stroke="#e68a80" stroke-width="0.7" fill="none"/>
<path d="M421.0,188.0 V186.0 M419.5,186.0 h3.0" stroke="#e68a80" stroke-width="0.7" fill="none"/>
<path d="M404.7,124.4 V122.0 M403.2,122.0 h3.0" stroke="#9ed08a" stroke-width="0.7" fill="none"/>
<path d="M433.5,131.3 V122.0 M432.0,122.0 h3.0" stroke="#9ed08a" stroke-width="0.7" fill="none"/>
<path d="M351.0,136.0 V132.0 M349.5,132.0 h3.0" stroke="#9ed08a" stroke-width="0.7" fill="none"/>
<path d="M355.0,129.7 V127.0 M353.5,127.0 h3.0" stroke="#9ed08a" stroke-width="0.7" fill="none"/>
<path d="M375.8,128.0 V125.5 M374.3,125.5 h3.0" stroke="#9ed08a" stroke-width="0.7" fill="none"/>
<path d="M383.9,130.6 V124.0 M382.4,124.0 h3.0" stroke="#9ed08a" stroke-width="0.7" fill="none"/>
<path d="M347.0,134.2 L351.0,136.3 L355.0,130.5 L363.0,133.5 L375.8,127.9 L383.9,130.6 L404.7,124.8 L433.5,131.0" fill="none" stroke="#8dcb74" stroke-width="1.0" stroke-dasharray="1.8,1"/><circle cx="347.0" cy="134.2" r="1.4" fill="#fff" stroke="#8dcb74" stroke-width="0.8"/><circle cx="351.0" cy="136.3" r="1.4" fill="#fff" stroke="#8dcb74" stroke-width="0.8"/><circle cx="355.0" cy="130.5" r="1.4" fill="#fff" stroke="#8dcb74" stroke-width="0.8"/><circle cx="363.0" cy="133.5" r="1.4" fill="#fff" stroke="#8dcb74" stroke-width="0.8"/><circle cx="375.8" cy="127.9" r="1.4" fill="#fff" stroke="#8dcb74" stroke-width="0.8"/><circle cx="383.9" cy="130.6" r="1.4" fill="#fff" stroke="#8dcb74" stroke-width="0.8"/><circle cx="404.7" cy="124.8" r="1.4" fill="#fff" stroke="#8dcb74" stroke-width="0.8"/><circle cx="433.5" cy="131.0" r="1.4" fill="#fff" stroke="#8dcb74" stroke-width="0.8"/>
<path d="M347.0,133.6 L351.0,136.0 L355.0,129.7 L363.0,133.0 L375.8,133.0 L383.9,131.2 L404.7,124.4 L433.5,131.3 L448.5,134.3" fill="none" stroke="#3e9e3a" stroke-width="1.1"/><circle cx="347.0" cy="133.6" r="1.4" fill="#3e9e3a"/><circle cx="351.0" cy="136.0" r="1.4" fill="#3e9e3a"/><circle cx="355.0" cy="129.7" r="1.4" fill="#3e9e3a"/><circle cx="363.0" cy="133.0" r="1.4" fill="#3e9e3a"/><circle cx="375.8" cy="133.0" r="1.4" fill="#3e9e3a"/><circle cx="383.9" cy="131.2" r="1.4" fill="#3e9e3a"/><circle cx="404.7" cy="124.4" r="1.4" fill="#3e9e3a"/><circle cx="433.5" cy="131.3" r="1.4" fill="#3e9e3a"/><circle cx="448.5" cy="134.3" r="1.4" fill="#3e9e3a"/>
<path d="M334.5,191.0 L342.5,174.6 L343.8,171.7 L347.0,140.0" fill="none" stroke="#3e9e3a" stroke-width="1.1"/>
<path d="M334.5,192.0 L341.0,180.0 L345.0,160.0 L347.5,142.8" fill="none" stroke="#8dcb74" stroke-width="1.0"/>
<path d="M334.5,193.0 L342.5,191.0 L347.0,170.8 L351.5,178.5 L355.0,187.0 L359.8,173.6 L364.0,171.7 L376.0,184.0 L384.0,186.0 L392.5,182.5 L405.5,186.0 L421.0,190.5 L437.5,193.5" fill="none" stroke="#ec7a6c" stroke-width="1.0" stroke-dasharray="1.8,1"/><circle cx="334.5" cy="193.0" r="1.4" fill="#fff" stroke="#ec7a6c" stroke-width="0.8"/><circle cx="342.5" cy="191.0" r="1.4" fill="#fff" stroke="#ec7a6c" stroke-width="0.8"/><circle cx="347.0" cy="170.8" r="1.4" fill="#fff" stroke="#ec7a6c" stroke-width="0.8"/><circle cx="351.5" cy="178.5" r="1.4" fill="#fff" stroke="#ec7a6c" stroke-width="0.8"/><circle cx="355.0" cy="187.0" r="1.4" fill="#fff" stroke="#ec7a6c" stroke-width="0.8"/><circle cx="359.8" cy="173.6" r="1.4" fill="#fff" stroke="#ec7a6c" stroke-width="0.8"/><circle cx="364.0" cy="171.7" r="1.4" fill="#fff" stroke="#ec7a6c" stroke-width="0.8"/><circle cx="376.0" cy="184.0" r="1.4" fill="#fff" stroke="#ec7a6c" stroke-width="0.8"/><circle cx="384.0" cy="186.0" r="1.4" fill="#fff" stroke="#ec7a6c" stroke-width="0.8"/><circle cx="392.5" cy="182.5" r="1.4" fill="#fff" stroke="#ec7a6c" stroke-width="0.8"/><circle cx="405.5" cy="186.0" r="1.4" fill="#fff" stroke="#ec7a6c" stroke-width="0.8"/><circle cx="421.0" cy="190.5" r="1.4" fill="#fff" stroke="#ec7a6c" stroke-width="0.8"/><circle cx="437.5" cy="193.5" r="1.4" fill="#fff" stroke="#ec7a6c" stroke-width="0.8"/>
<path d="M334.5,191.0 L343.0,181.3 L347.3,167.9 L351.5,172.7 L356.0,178.5 L359.8,180.4 L364.0,158.3 L376.2,184.2 L384.4,179.4 L392.5,178.5 L405.5,185.0 L421.2,187.5 L437.5,187.0 L447.0,190.0" fill="none" stroke="#dc3a2c" stroke-width="1.2"/><circle cx="334.5" cy="191.0" r="1.6" fill="#dc3a2c"/><circle cx="343.0" cy="181.3" r="1.6" fill="#dc3a2c"/><circle cx="347.3" cy="167.9" r="1.6" fill="#dc3a2c"/><circle cx="351.5" cy="172.7" r="1.6" fill="#dc3a2c"/><circle cx="356.0" cy="178.5" r="1.6" fill="#dc3a2c"/><circle cx="359.8" cy="180.4" r="1.6" fill="#dc3a2c"/><circle cx="364.0" cy="158.3" r="1.6" fill="#dc3a2c"/><circle cx="376.2" cy="184.2" r="1.6" fill="#dc3a2c"/><circle cx="384.4" cy="179.4" r="1.6" fill="#dc3a2c"/><circle cx="392.5" cy="178.5" r="1.6" fill="#dc3a2c"/><circle cx="405.5" cy="185.0" r="1.6" fill="#dc3a2c"/><circle cx="421.2" cy="187.5" r="1.6" fill="#dc3a2c"/><circle cx="437.5" cy="187.0" r="1.6" fill="#dc3a2c"/><circle cx="447.0" cy="190.0" r="1.6" fill="#dc3a2c"/>
<text x="397.5" y="146" font-size="7.8" fill="#222">5×10<tspan dy="-2.8" font-size="5.5">4</tspan></text>
<text x="425" y="146" font-size="7.8" fill="#222">5×10<tspan dy="-2.8" font-size="5.5">5</tspan><tspan dy="2.8"> TC</tspan></text>
<path d="M400,155.5 H410" stroke="#8dcb74" stroke-width="0.9" stroke-dasharray="1.6,1"/><circle cx="405" cy="155.5" r="1.1" fill="#fff" stroke="#8dcb74" stroke-width="0.8"/>
<path d="M426,155.5 H436" stroke="#3e9e3a" stroke-width="1"/><circle cx="431" cy="155.5" r="1.1" fill="#3e9e3a"/>
<path d="M400,170.5 H410" stroke="#ec7a6c" stroke-width="0.9" stroke-dasharray="1.6,1"/><circle cx="405" cy="170.5" r="1.1" fill="#fff" stroke="#ec7a6c" stroke-width="0.8"/>
<path d="M426,170.5 H436" stroke="#dc3a2c" stroke-width="1"/><circle cx="431" cy="170.5" r="1.2" fill="#dc3a2c"/>
<text x="442.5" y="158.6" font-size="8" fill="#222">Rluc</text>
<text x="442.5" y="173.6" font-size="7.7" fill="#222">CBR-NFAT</text>
<text x="300.6" y="242.6" font-size="12.5" font-weight="bold">D</text>
<path d="M345.1,235.3 V291.5 H400" stroke="#333" stroke-width="1" fill="none"/><path d="M343.3,291.5 H345.1" stroke="#333" stroke-width="0.8"/><text x="342.70000000000005" y="293.5" font-size="5.6" text-anchor="end" fill="#333">0</text><path d="M343.3,277.6 H345.1" stroke="#333" stroke-width="0.8"/><text x="342.70000000000005" y="279.6" font-size="5.6" text-anchor="end" fill="#333">20</text><path d="M343.3,263.6 H345.1" stroke="#333" stroke-width="0.8"/><text x="342.70000000000005" y="265.6" font-size="5.6" text-anchor="end" fill="#333">40</text><path d="M343.3,249.7 H345.1" stroke="#333" stroke-width="0.8"/><text x="342.70000000000005" y="251.7" font-size="5.6" text-anchor="end" fill="#333">60</text><path d="M343.3,235.8 H345.1" stroke="#333" stroke-width="0.8"/><text x="342.70000000000005" y="237.8" font-size="5.6" text-anchor="end" fill="#333">80</text><path d="M358.8,245.5 V241.4 M354.8,241.4 h8" stroke="#333" stroke-width="1" fill="none"/><rect x="349.5" y="245.5" width="18.5" height="46.0" fill="#2e2e2e" stroke="#333" stroke-width="0.9"/><path d="M386.6,288.4 V287.3 M382.6,287.3 h8" stroke="#333" stroke-width="1" fill="none"/><rect x="377" y="288.4" width="19.3" height="3.1" fill="#bdbdbd" stroke="#333" stroke-width="0.9"/><text x="371" y="300.4" font-size="7.6" text-anchor="middle" fill="#222">Tumor</text><text x="372.6" y="232.6" font-size="7.2" text-anchor="middle" fill="#222">TIL Activation</text><text transform="translate(330.5,263.4) rotate(-90)" font-size="6.4" text-anchor="middle" fill="#222">% CD25<tspan dy="-2" font-size="4.5">+</tspan><tspan dy="2">CD69</tspan><tspan dy="-2" font-size="4.5">+</tspan><tspan dy="2"> on TC</tspan></text>
<path d="M427.3,234.3 V291.5 H486" stroke="#333" stroke-width="1" fill="none"/><path d="M425.5,291.5 H427.3" stroke="#333" stroke-width="0.8"/><text x="424.90000000000003" y="293.5" font-size="5.6" text-anchor="end" fill="#333">0</text><path d="M425.5,277.3 H427.3" stroke="#333" stroke-width="0.8"/><text x="424.90000000000003" y="279.3" font-size="5.6" text-anchor="end" fill="#333">20</text><path d="M425.5,263.1 H427.3" stroke="#333" stroke-width="0.8"/><text x="424.90000000000003" y="265.1" font-size="5.6" text-anchor="end" fill="#333">40</text><path d="M425.5,249.0 H427.3" stroke="#333" stroke-width="0.8"/><text x="424.90000000000003" y="251.0" font-size="5.6" text-anchor="end" fill="#333">60</text><path d="M425.5,234.8 H427.3" stroke="#333" stroke-width="0.8"/><text x="424.90000000000003" y="236.8" font-size="5.6" text-anchor="end" fill="#333">80</text><path d="M441.8,252.8 V248.1 M437.8,248.1 h8" stroke="#333" stroke-width="1" fill="none"/><rect x="432.3" y="252.8" width="18.9" height="38.7" fill="#2e2e2e" stroke="#333" stroke-width="0.9"/><path d="M470.6,280.7 V276.5 M466.6,276.5 h8" stroke="#333" stroke-width="1" fill="none"/><rect x="461" y="280.7" width="19.3" height="10.8" fill="#bdbdbd" stroke="#333" stroke-width="0.9"/><text x="455" y="300.4" font-size="7.6" text-anchor="middle" fill="#222">Tumor</text><text x="454.5" y="232.6" font-size="7.2" text-anchor="middle" fill="#222">TIL – intraIFNγ</text><text transform="translate(412.0,261.6) rotate(-90)" font-size="6.1" text-anchor="middle" fill="#222">% IFNγ<tspan dy="-2" font-size="4.5">+</tspan><tspan dy="2"> on TC</tspan></text>
<rect x="486.8" y="242.2" width="6.6" height="4.2" fill="#2e2e2e" stroke="#333" stroke-width="0.7"/>
<rect x="486.8" y="250.8" width="6.6" height="4.2" fill="#bdbdbd" stroke="#333" stroke-width="0.7"/>
<text x="494.6" y="247" font-size="6.6" fill="#222">On peak</text>
<text x="494.6" y="255.6" font-size="6.6" fill="#222">Off peak</text>
</svg></body></html>
